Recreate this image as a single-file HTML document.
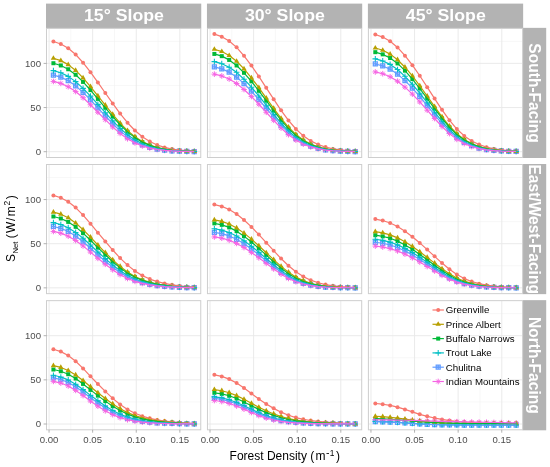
<!DOCTYPE html>
<html lang="en"><head><meta charset="utf-8"><title>Net shortwave vs forest density</title>
<style>html,body{margin:0;padding:0;background:#fff}body{width:550px;height:467px;overflow:hidden}svg{display:block}</style>
</head><body>
<svg width="550" height="467" viewBox="0 0 550 467" font-family="'Liberation Sans', sans-serif">
<rect width="550" height="467" fill="#fff"/>
<rect x="46.00" y="3.6" width="155.25" height="24.75" fill="#b3b3b3"/>
<rect x="206.95" y="3.6" width="155.25" height="24.75" fill="#b3b3b3"/>
<rect x="367.90" y="3.6" width="155.25" height="24.75" fill="#b3b3b3"/>
<rect x="522.7" y="27.85" width="23.50" height="130.15" fill="#b3b3b3"/>
<rect x="522.7" y="164.00" width="23.50" height="130.15" fill="#b3b3b3"/>
<rect x="522.7" y="300.15" width="23.50" height="130.15" fill="#b3b3b3"/>
<g>
<path d="M46.50 129.62H200.75M46.50 85.47H200.75M46.50 41.32H200.75M70.85 28.35V157.50M114.45 28.35V157.50M158.05 28.35V157.50" stroke="#f2f2f2" stroke-width="0.6" fill="none"/>
<path d="M46.50 151.70H200.75M46.50 107.55H200.75M46.50 63.40H200.75M49.05 28.35V157.50M92.65 28.35V157.50M136.25 28.35V157.50M179.85 28.35V157.50" stroke="#e8e8e8" stroke-width="0.9" fill="none"/>
<rect x="51.41" y="61.22" width="4.0" height="4.0" fill="#00BA38"/><rect x="58.82" y="63.46" width="4.0" height="4.0" fill="#00BA38"/><rect x="66.23" y="67.25" width="4.0" height="4.0" fill="#00BA38"/><rect x="73.65" y="72.77" width="4.0" height="4.0" fill="#00BA38"/><rect x="81.06" y="79.92" width="4.0" height="4.0" fill="#00BA38"/><rect x="88.47" y="88.11" width="4.0" height="4.0" fill="#00BA38"/><rect x="95.88" y="96.90" width="4.0" height="4.0" fill="#00BA38"/><rect x="103.29" y="105.80" width="4.0" height="4.0" fill="#00BA38"/><rect x="110.71" y="114.55" width="4.0" height="4.0" fill="#00BA38"/><rect x="118.12" y="122.75" width="4.0" height="4.0" fill="#00BA38"/><rect x="125.53" y="129.85" width="4.0" height="4.0" fill="#00BA38"/><rect x="132.94" y="135.62" width="4.0" height="4.0" fill="#00BA38"/><rect x="140.35" y="140.14" width="4.0" height="4.0" fill="#00BA38"/><rect x="147.77" y="143.42" width="4.0" height="4.0" fill="#00BA38"/><rect x="155.18" y="145.72" width="4.0" height="4.0" fill="#00BA38"/><rect x="162.59" y="147.28" width="4.0" height="4.0" fill="#00BA38"/><rect x="170.00" y="148.24" width="4.0" height="4.0" fill="#00BA38"/><rect x="177.41" y="148.84" width="4.0" height="4.0" fill="#00BA38"/><rect x="184.83" y="149.23" width="4.0" height="4.0" fill="#00BA38"/><rect x="192.24" y="149.43" width="4.0" height="4.0" fill="#00BA38"/>
<path d="M51.41 73.06H55.41V77.06H51.41ZM51.41 75.06H55.41M53.41 73.06V77.06" stroke="#619CFF" stroke-width="1.25" fill="none"/><path d="M58.82 75.14H62.82V79.14H58.82ZM58.82 77.14H62.82M60.82 75.14V79.14" stroke="#619CFF" stroke-width="1.25" fill="none"/><path d="M66.23 78.67H70.23V82.67H66.23ZM66.23 80.67H70.23M68.23 78.67V82.67" stroke="#619CFF" stroke-width="1.25" fill="none"/><path d="M73.65 83.83H77.65V87.83H73.65ZM73.65 85.83H77.65M75.65 83.83V87.83" stroke="#619CFF" stroke-width="1.25" fill="none"/><path d="M81.06 90.41H85.06V94.41H81.06ZM81.06 92.41H85.06M83.06 90.41V94.41" stroke="#619CFF" stroke-width="1.25" fill="none"/><path d="M88.47 97.93H92.47V101.93H88.47ZM88.47 99.93H92.47M90.47 97.93V101.93" stroke="#619CFF" stroke-width="1.25" fill="none"/><path d="M95.88 105.93H99.88V109.93H95.88ZM95.88 107.93H99.88M97.88 105.93V109.93" stroke="#619CFF" stroke-width="1.25" fill="none"/><path d="M103.29 113.92H107.29V117.92H103.29ZM103.29 115.92H107.29M105.29 113.92V117.92" stroke="#619CFF" stroke-width="1.25" fill="none"/><path d="M110.71 121.76H114.71V125.76H110.71ZM110.71 123.76H114.71M112.71 121.76V125.76" stroke="#619CFF" stroke-width="1.25" fill="none"/><path d="M118.12 128.89H122.12V132.89H118.12ZM118.12 130.89H122.12M120.12 128.89V132.89" stroke="#619CFF" stroke-width="1.25" fill="none"/><path d="M125.53 134.88H129.53V138.88H125.53ZM125.53 136.88H129.53M127.53 134.88V138.88" stroke="#619CFF" stroke-width="1.25" fill="none"/><path d="M132.94 139.50H136.94V143.50H132.94ZM132.94 141.50H136.94M134.94 139.50V143.50" stroke="#619CFF" stroke-width="1.25" fill="none"/><path d="M140.35 142.95H144.35V146.95H140.35ZM140.35 144.95H144.35M142.35 142.95V146.95" stroke="#619CFF" stroke-width="1.25" fill="none"/><path d="M147.77 145.39H151.77V149.39H147.77ZM147.77 147.39H151.77M149.77 145.39V149.39" stroke="#619CFF" stroke-width="1.25" fill="none"/><path d="M155.18 147.07H159.18V151.07H155.18ZM155.18 149.07H159.18M157.18 147.07V151.07" stroke="#619CFF" stroke-width="1.25" fill="none"/><path d="M162.59 148.14H166.59V152.14H162.59ZM162.59 150.14H166.59M164.59 148.14V152.14" stroke="#619CFF" stroke-width="1.25" fill="none"/><path d="M170.00 148.78H174.00V152.78H170.00ZM170.00 150.78H174.00M172.00 148.78V152.78" stroke="#619CFF" stroke-width="1.25" fill="none"/><path d="M177.41 149.19H181.41V153.19H177.41ZM177.41 151.19H181.41M179.41 149.19V153.19" stroke="#619CFF" stroke-width="1.25" fill="none"/><path d="M184.83 149.42H188.83V153.42H184.83ZM184.83 151.42H188.83M186.83 149.42V153.42" stroke="#619CFF" stroke-width="1.25" fill="none"/><path d="M192.24 149.53H196.24V153.53H192.24ZM192.24 151.53H196.24M194.24 149.53V153.53" stroke="#619CFF" stroke-width="1.25" fill="none"/>
<circle cx="53.41" cy="41.50" r="2.0" fill="#F8766D"/><circle cx="60.82" cy="44.03" r="2.0" fill="#F8766D"/><circle cx="68.23" cy="48.28" r="2.0" fill="#F8766D"/><circle cx="75.65" cy="54.50" r="2.0" fill="#F8766D"/><circle cx="83.06" cy="62.70" r="2.0" fill="#F8766D"/><circle cx="90.47" cy="72.15" r="2.0" fill="#F8766D"/><circle cx="97.88" cy="82.39" r="2.0" fill="#F8766D"/><circle cx="105.29" cy="92.99" r="2.0" fill="#F8766D"/><circle cx="112.71" cy="103.40" r="2.0" fill="#F8766D"/><circle cx="120.12" cy="113.57" r="2.0" fill="#F8766D"/><circle cx="127.53" cy="122.72" r="2.0" fill="#F8766D"/><circle cx="134.94" cy="130.47" r="2.0" fill="#F8766D"/><circle cx="142.35" cy="136.82" r="2.0" fill="#F8766D"/><circle cx="149.77" cy="141.56" r="2.0" fill="#F8766D"/><circle cx="157.18" cy="144.98" r="2.0" fill="#F8766D"/><circle cx="164.59" cy="147.40" r="2.0" fill="#F8766D"/><circle cx="172.00" cy="149.05" r="2.0" fill="#F8766D"/><circle cx="179.41" cy="150.05" r="2.0" fill="#F8766D"/><circle cx="186.83" cy="150.71" r="2.0" fill="#F8766D"/><circle cx="194.24" cy="151.15" r="2.0" fill="#F8766D"/>
<path d="M50.58 81.41H56.24M53.41 78.58V84.24M51.41 79.41L55.41 83.41M51.41 83.41L55.41 79.41" stroke="#F564E3" stroke-width="0.95" fill="none"/><path d="M57.99 83.37H63.65M60.82 80.54V86.20M58.82 81.37L62.82 85.37M58.82 85.37L62.82 81.37" stroke="#F564E3" stroke-width="0.95" fill="none"/><path d="M65.41 86.70H71.06M68.23 83.87V89.53M66.23 84.70L70.23 88.70M66.23 88.70L70.23 84.70" stroke="#F564E3" stroke-width="0.95" fill="none"/><path d="M72.82 91.56H78.47M75.65 88.74V94.39M73.65 89.56L77.65 93.56M73.65 93.56L77.65 89.56" stroke="#F564E3" stroke-width="0.95" fill="none"/><path d="M80.23 97.73H85.89M83.06 94.90V100.56M81.06 95.73L85.06 99.73M81.06 99.73L85.06 95.73" stroke="#F564E3" stroke-width="0.95" fill="none"/><path d="M87.64 104.77H93.30M90.47 101.94V107.59M88.47 102.77L92.47 106.77M88.47 106.77L92.47 102.77" stroke="#F564E3" stroke-width="0.95" fill="none"/><path d="M95.05 112.24H100.71M97.88 109.41V115.07M95.88 110.24L99.88 114.24M95.88 114.24L99.88 110.24" stroke="#F564E3" stroke-width="0.95" fill="none"/><path d="M102.47 119.66H108.12M105.29 116.83V122.49M103.29 117.66L107.29 121.66M103.29 121.66L107.29 117.66" stroke="#F564E3" stroke-width="0.95" fill="none"/><path d="M109.88 126.94H115.53M112.71 124.12V129.77M110.71 124.94L114.71 128.94M110.71 128.94L114.71 124.94" stroke="#F564E3" stroke-width="0.95" fill="none"/><path d="M117.29 133.41H122.95M120.12 130.58V136.24M118.12 131.41L122.12 135.41M118.12 135.41L122.12 131.41" stroke="#F564E3" stroke-width="0.95" fill="none"/><path d="M124.70 138.76H130.36M127.53 135.93V141.59M125.53 136.76L129.53 140.76M125.53 140.76L129.53 136.76" stroke="#F564E3" stroke-width="0.95" fill="none"/><path d="M132.11 142.88H137.77M134.94 140.05V145.70M132.94 140.88L136.94 144.88M132.94 144.88L136.94 140.88" stroke="#F564E3" stroke-width="0.95" fill="none"/><path d="M139.53 145.93H145.18M142.35 143.10V148.75M140.35 143.93L144.35 147.93M140.35 147.93L144.35 143.93" stroke="#F564E3" stroke-width="0.95" fill="none"/><path d="M146.94 148.07H152.59M149.77 145.24V150.89M147.77 146.07L151.77 150.07M147.77 150.07L151.77 146.07" stroke="#F564E3" stroke-width="0.95" fill="none"/><path d="M154.35 149.52H160.01M157.18 146.69V152.34M155.18 147.52L159.18 151.52M155.18 151.52L159.18 147.52" stroke="#F564E3" stroke-width="0.95" fill="none"/><path d="M161.76 150.41H167.42M164.59 147.59V153.24M162.59 148.41L166.59 152.41M162.59 152.41L166.59 148.41" stroke="#F564E3" stroke-width="0.95" fill="none"/><path d="M169.17 150.96H174.83M172.00 148.13V153.79M170.00 148.96L174.00 152.96M170.00 152.96L174.00 148.96" stroke="#F564E3" stroke-width="0.95" fill="none"/><path d="M176.59 151.30H182.24M179.41 148.48V154.13M177.41 149.30L181.41 153.30M177.41 153.30L181.41 149.30" stroke="#F564E3" stroke-width="0.95" fill="none"/><path d="M184.00 151.48H189.65M186.83 148.65V154.31M184.83 149.48L188.83 153.48M184.83 153.48L188.83 149.48" stroke="#F564E3" stroke-width="0.95" fill="none"/><path d="M191.41 151.56H197.07M194.24 148.73V154.39M192.24 149.56L196.24 153.56M192.24 153.56L196.24 149.56" stroke="#F564E3" stroke-width="0.95" fill="none"/>
<path d="M53.41 55.17L56.10 59.83L50.72 59.83Z" fill="#B79F00"/><path d="M60.82 57.52L63.52 62.19L58.13 62.19Z" fill="#B79F00"/><path d="M68.23 61.50L70.93 66.17L65.54 66.17Z" fill="#B79F00"/><path d="M75.65 67.32L78.34 71.98L72.95 71.98Z" fill="#B79F00"/><path d="M83.06 74.84L85.75 79.50L80.36 79.50Z" fill="#B79F00"/><path d="M90.47 83.46L93.16 88.12L87.78 88.12Z" fill="#B79F00"/><path d="M97.88 92.72L100.58 97.38L95.19 97.38Z" fill="#B79F00"/><path d="M105.29 102.10L107.99 106.77L102.60 106.77Z" fill="#B79F00"/><path d="M112.71 111.32L115.40 115.98L110.01 115.98Z" fill="#B79F00"/><path d="M120.12 119.97L122.81 124.64L117.42 124.64Z" fill="#B79F00"/><path d="M127.53 127.49L130.22 132.16L124.84 132.16Z" fill="#B79F00"/><path d="M134.94 133.60L137.64 138.26L132.25 138.26Z" fill="#B79F00"/><path d="M142.35 138.40L145.05 143.06L139.66 143.06Z" fill="#B79F00"/><path d="M149.77 141.88L152.46 146.54L147.07 146.54Z" fill="#B79F00"/><path d="M157.18 144.33L159.87 148.99L154.48 148.99Z" fill="#B79F00"/><path d="M164.59 145.99L167.28 150.66L161.90 150.66Z" fill="#B79F00"/><path d="M172.00 147.02L174.70 151.68L169.31 151.68Z" fill="#B79F00"/><path d="M179.41 147.66L182.11 152.33L176.72 152.33Z" fill="#B79F00"/><path d="M186.83 148.08L189.52 152.75L184.13 152.75Z" fill="#B79F00"/><path d="M194.24 148.30L196.93 152.96L191.54 152.96Z" fill="#B79F00"/>
<path d="M50.58 70.64H56.24M53.41 67.81V73.47" stroke="#00BFC4" stroke-width="1.05" fill="none"/><path d="M57.99 72.77H63.65M60.82 69.94V75.59" stroke="#00BFC4" stroke-width="1.05" fill="none"/><path d="M65.41 76.37H71.06M68.23 73.54V79.20" stroke="#00BFC4" stroke-width="1.05" fill="none"/><path d="M72.82 81.63H78.47M75.65 78.80V84.46" stroke="#00BFC4" stroke-width="1.05" fill="none"/><path d="M80.23 88.38H85.89M83.06 85.55V91.21" stroke="#00BFC4" stroke-width="1.05" fill="none"/><path d="M87.64 96.11H93.30M90.47 93.28V98.94" stroke="#00BFC4" stroke-width="1.05" fill="none"/><path d="M95.05 104.37H100.71M97.88 101.54V107.20" stroke="#00BFC4" stroke-width="1.05" fill="none"/><path d="M102.47 112.67H108.12M105.29 109.84V115.50" stroke="#00BFC4" stroke-width="1.05" fill="none"/><path d="M109.88 120.82H115.53M112.71 118.00V123.65" stroke="#00BFC4" stroke-width="1.05" fill="none"/><path d="M117.29 128.35H122.95M120.12 125.52V131.18" stroke="#00BFC4" stroke-width="1.05" fill="none"/><path d="M124.70 134.77H130.36M127.53 131.94V137.60" stroke="#00BFC4" stroke-width="1.05" fill="none"/><path d="M132.11 139.89H137.77M134.94 137.06V142.72" stroke="#00BFC4" stroke-width="1.05" fill="none"/><path d="M139.53 143.82H145.18M142.35 140.99V146.65" stroke="#00BFC4" stroke-width="1.05" fill="none"/><path d="M146.94 146.63H152.59M149.77 143.80V149.46" stroke="#00BFC4" stroke-width="1.05" fill="none"/><path d="M154.35 148.56H160.01M157.18 145.73V151.39" stroke="#00BFC4" stroke-width="1.05" fill="none"/><path d="M161.76 149.82H167.42M164.59 146.99V152.65" stroke="#00BFC4" stroke-width="1.05" fill="none"/><path d="M169.17 150.56H174.83M172.00 147.73V153.39" stroke="#00BFC4" stroke-width="1.05" fill="none"/><path d="M176.59 151.04H182.24M179.41 148.22V153.87" stroke="#00BFC4" stroke-width="1.05" fill="none"/><path d="M184.00 151.34H189.65M186.83 148.51V154.17" stroke="#00BFC4" stroke-width="1.05" fill="none"/><path d="M191.41 151.49H197.07M194.24 148.66V154.32" stroke="#00BFC4" stroke-width="1.05" fill="none"/>
<path d="M53.41 41.50L60.82 44.03L68.23 48.28L75.65 54.50L83.06 62.70L90.47 72.15L97.88 82.39L105.29 92.99L112.71 103.40L120.12 113.57L127.53 122.72L134.94 130.47L142.35 136.82L149.77 141.56L157.18 144.98L164.59 147.40L172.00 149.05L179.41 150.05L186.83 150.71L194.24 151.15" stroke="#F8766D" stroke-width="1.2" fill="none" stroke-linejoin="round"/>
<path d="M53.41 58.28L60.82 60.63L68.23 64.61L75.65 70.43L83.06 77.95L90.47 86.57L97.88 95.83L105.29 105.21L112.71 114.43L120.12 123.09L127.53 130.60L134.94 136.71L142.35 141.51L149.77 144.99L157.18 147.44L164.59 149.10L172.00 150.13L179.41 150.77L186.83 151.19L194.24 151.41" stroke="#B79F00" stroke-width="1.2" fill="none" stroke-linejoin="round"/>
<path d="M53.41 63.22L60.82 65.46L68.23 69.25L75.65 74.77L83.06 81.92L90.47 90.11L97.88 98.90L105.29 107.80L112.71 116.55L120.12 124.75L127.53 131.85L134.94 137.62L142.35 142.14L149.77 145.42L157.18 147.72L164.59 149.28L172.00 150.24L179.41 150.84L186.83 151.23L194.24 151.43" stroke="#00BA38" stroke-width="1.2" fill="none" stroke-linejoin="round"/>
<path d="M53.41 70.64L60.82 72.77L68.23 76.37L75.65 81.63L83.06 88.38L90.47 96.11L97.88 104.37L105.29 112.67L112.71 120.82L120.12 128.35L127.53 134.77L134.94 139.89L142.35 143.82L149.77 146.63L157.18 148.56L164.59 149.82L172.00 150.56L179.41 151.04L186.83 151.34L194.24 151.49" stroke="#00BFC4" stroke-width="1.2" fill="none" stroke-linejoin="round"/>
<path d="M53.41 75.06L60.82 77.14L68.23 80.67L75.65 85.83L83.06 92.41L90.47 99.93L97.88 107.93L105.29 115.92L112.71 123.76L120.12 130.89L127.53 136.88L134.94 141.50L142.35 144.95L149.77 147.39L157.18 149.07L164.59 150.14L172.00 150.78L179.41 151.19L186.83 151.42L194.24 151.53" stroke="#619CFF" stroke-width="1.2" fill="none" stroke-linejoin="round"/>
<path d="M53.41 81.41L60.82 83.37L68.23 86.70L75.65 91.56L83.06 97.73L90.47 104.77L97.88 112.24L105.29 119.66L112.71 126.94L120.12 133.41L127.53 138.76L134.94 142.88L142.35 145.93L149.77 148.07L157.18 149.52L164.59 150.41L172.00 150.96L179.41 151.30L186.83 151.48L194.24 151.56" stroke="#F564E3" stroke-width="1.2" fill="none" stroke-linejoin="round"/>
<rect x="46.50" y="28.35" width="154.25" height="129.15" fill="none" stroke="#cecece" stroke-width="1"/>
</g>
<g>
<path d="M207.45 129.62H361.70M207.45 85.47H361.70M207.45 41.32H361.70M231.80 28.35V157.50M275.40 28.35V157.50M319.00 28.35V157.50" stroke="#f2f2f2" stroke-width="0.6" fill="none"/>
<path d="M207.45 151.70H361.70M207.45 107.55H361.70M207.45 63.40H361.70M210.00 28.35V157.50M253.60 28.35V157.50M297.20 28.35V157.50M340.80 28.35V157.50" stroke="#e8e8e8" stroke-width="0.9" fill="none"/>
<rect x="212.36" y="51.93" width="4.0" height="4.0" fill="#00BA38"/><rect x="219.77" y="54.15" width="4.0" height="4.0" fill="#00BA38"/><rect x="227.18" y="57.91" width="4.0" height="4.0" fill="#00BA38"/><rect x="234.60" y="63.45" width="4.0" height="4.0" fill="#00BA38"/><rect x="242.01" y="70.82" width="4.0" height="4.0" fill="#00BA38"/><rect x="249.42" y="79.35" width="4.0" height="4.0" fill="#00BA38"/><rect x="256.83" y="88.81" width="4.0" height="4.0" fill="#00BA38"/><rect x="264.24" y="98.72" width="4.0" height="4.0" fill="#00BA38"/><rect x="271.66" y="108.57" width="4.0" height="4.0" fill="#00BA38"/><rect x="279.07" y="118.09" width="4.0" height="4.0" fill="#00BA38"/><rect x="286.48" y="126.53" width="4.0" height="4.0" fill="#00BA38"/><rect x="293.89" y="133.47" width="4.0" height="4.0" fill="#00BA38"/><rect x="301.30" y="138.76" width="4.0" height="4.0" fill="#00BA38"/><rect x="308.72" y="142.57" width="4.0" height="4.0" fill="#00BA38"/><rect x="316.13" y="145.24" width="4.0" height="4.0" fill="#00BA38"/><rect x="323.54" y="147.04" width="4.0" height="4.0" fill="#00BA38"/><rect x="330.95" y="148.13" width="4.0" height="4.0" fill="#00BA38"/><rect x="338.36" y="148.81" width="4.0" height="4.0" fill="#00BA38"/><rect x="345.78" y="149.23" width="4.0" height="4.0" fill="#00BA38"/><rect x="353.19" y="149.43" width="4.0" height="4.0" fill="#00BA38"/>
<path d="M212.36 64.91H216.36V68.91H212.36ZM212.36 66.91H216.36M214.36 64.91V68.91" stroke="#619CFF" stroke-width="1.25" fill="none"/><path d="M219.77 66.85H223.77V70.85H219.77ZM219.77 68.85H223.77M221.77 66.85V70.85" stroke="#619CFF" stroke-width="1.25" fill="none"/><path d="M227.18 70.17H231.18V74.17H227.18ZM227.18 72.17H231.18M229.18 70.17V74.17" stroke="#619CFF" stroke-width="1.25" fill="none"/><path d="M234.60 75.07H238.60V79.07H234.60ZM234.60 77.07H238.60M236.60 75.07V79.07" stroke="#619CFF" stroke-width="1.25" fill="none"/><path d="M242.01 81.58H246.01V85.58H242.01ZM242.01 83.58H246.01M244.01 81.58V85.58" stroke="#619CFF" stroke-width="1.25" fill="none"/><path d="M249.42 89.14H253.42V93.14H249.42ZM249.42 91.14H253.42M251.42 89.14V93.14" stroke="#619CFF" stroke-width="1.25" fill="none"/><path d="M256.83 97.51H260.83V101.51H256.83ZM256.83 99.51H260.83M258.83 97.51V101.51" stroke="#619CFF" stroke-width="1.25" fill="none"/><path d="M264.24 106.27H268.24V110.27H264.24ZM264.24 108.27H268.24M266.24 106.27V110.27" stroke="#619CFF" stroke-width="1.25" fill="none"/><path d="M271.66 114.98H275.66V118.98H271.66ZM271.66 116.98H275.66M273.66 114.98V118.98" stroke="#619CFF" stroke-width="1.25" fill="none"/><path d="M279.07 123.33H283.07V127.33H279.07ZM279.07 125.33H283.07M281.07 123.33V127.33" stroke="#619CFF" stroke-width="1.25" fill="none"/><path d="M286.48 130.65H290.48V134.65H286.48ZM286.48 132.65H290.48M288.48 130.65V134.65" stroke="#619CFF" stroke-width="1.25" fill="none"/><path d="M293.89 136.60H297.89V140.60H293.89ZM293.89 138.60H297.89M295.89 136.60V140.60" stroke="#619CFF" stroke-width="1.25" fill="none"/><path d="M301.30 141.05H305.30V145.05H301.30ZM301.30 143.05H305.30M303.30 141.05V145.05" stroke="#619CFF" stroke-width="1.25" fill="none"/><path d="M308.72 144.21H312.72V148.21H308.72ZM308.72 146.21H312.72M310.72 144.21V148.21" stroke="#619CFF" stroke-width="1.25" fill="none"/><path d="M316.13 146.39H320.13V150.39H316.13ZM316.13 148.39H320.13M318.13 146.39V150.39" stroke="#619CFF" stroke-width="1.25" fill="none"/><path d="M323.54 147.76H327.54V151.76H323.54ZM323.54 149.76H327.54M325.54 147.76V151.76" stroke="#619CFF" stroke-width="1.25" fill="none"/><path d="M330.95 148.56H334.95V152.56H330.95ZM330.95 150.56H334.95M332.95 148.56V152.56" stroke="#619CFF" stroke-width="1.25" fill="none"/><path d="M338.36 149.07H342.36V153.07H338.36ZM338.36 151.07H342.36M340.36 149.07V153.07" stroke="#619CFF" stroke-width="1.25" fill="none"/><path d="M345.78 149.37H349.78V153.37H345.78ZM345.78 151.37H349.78M347.78 149.37V153.37" stroke="#619CFF" stroke-width="1.25" fill="none"/><path d="M353.19 149.51H357.19V153.51H353.19ZM353.19 151.51H357.19M355.19 149.51V153.51" stroke="#619CFF" stroke-width="1.25" fill="none"/>
<circle cx="214.36" cy="34.08" r="2.0" fill="#F8766D"/><circle cx="221.77" cy="36.67" r="2.0" fill="#F8766D"/><circle cx="229.18" cy="41.02" r="2.0" fill="#F8766D"/><circle cx="236.60" cy="47.37" r="2.0" fill="#F8766D"/><circle cx="244.01" cy="55.84" r="2.0" fill="#F8766D"/><circle cx="251.42" cy="65.61" r="2.0" fill="#F8766D"/><circle cx="258.83" cy="76.43" r="2.0" fill="#F8766D"/><circle cx="266.24" cy="87.83" r="2.0" fill="#F8766D"/><circle cx="273.66" cy="99.13" r="2.0" fill="#F8766D"/><circle cx="281.07" cy="110.30" r="2.0" fill="#F8766D"/><circle cx="288.48" cy="120.41" r="2.0" fill="#F8766D"/><circle cx="295.89" cy="129.00" r="2.0" fill="#F8766D"/><circle cx="303.30" cy="135.82" r="2.0" fill="#F8766D"/><circle cx="310.72" cy="140.88" r="2.0" fill="#F8766D"/><circle cx="318.13" cy="144.53" r="2.0" fill="#F8766D"/><circle cx="325.54" cy="147.11" r="2.0" fill="#F8766D"/><circle cx="332.95" cy="148.88" r="2.0" fill="#F8766D"/><circle cx="340.36" cy="149.94" r="2.0" fill="#F8766D"/><circle cx="347.78" cy="150.64" r="2.0" fill="#F8766D"/><circle cx="355.19" cy="151.11" r="2.0" fill="#F8766D"/>
<path d="M211.53 74.15H217.19M214.36 71.32V76.97M212.36 72.15L216.36 76.15M212.36 76.15L216.36 72.15" stroke="#F564E3" stroke-width="0.95" fill="none"/><path d="M218.94 75.94H224.60M221.77 73.11V78.76M219.77 73.94L223.77 77.94M219.77 77.94L223.77 73.94" stroke="#F564E3" stroke-width="0.95" fill="none"/><path d="M226.36 78.99H232.01M229.18 76.16V81.82M227.18 76.99L231.18 80.99M227.18 80.99L231.18 76.99" stroke="#F564E3" stroke-width="0.95" fill="none"/><path d="M233.77 83.51H239.42M236.60 80.68V86.34M234.60 81.51L238.60 85.51M234.60 85.51L238.60 81.51" stroke="#F564E3" stroke-width="0.95" fill="none"/><path d="M241.18 89.51H246.84M244.01 86.69V92.34M242.01 87.51L246.01 91.51M242.01 91.51L246.01 87.51" stroke="#F564E3" stroke-width="0.95" fill="none"/><path d="M248.59 96.48H254.25M251.42 93.65V99.31M249.42 94.48L253.42 98.48M249.42 98.48L253.42 94.48" stroke="#F564E3" stroke-width="0.95" fill="none"/><path d="M256.00 104.21H261.66M258.83 101.38V107.04M256.83 102.21L260.83 106.21M256.83 106.21L260.83 102.21" stroke="#F564E3" stroke-width="0.95" fill="none"/><path d="M263.42 112.27H269.07M266.24 109.44V115.10M264.24 110.27L268.24 114.27M264.24 114.27L268.24 110.27" stroke="#F564E3" stroke-width="0.95" fill="none"/><path d="M270.83 120.31H276.48M273.66 117.48V123.14M271.66 118.31L275.66 122.31M271.66 122.31L275.66 118.31" stroke="#F564E3" stroke-width="0.95" fill="none"/><path d="M278.24 127.98H283.90M281.07 125.15V130.81M279.07 125.98L283.07 129.98M279.07 129.98L283.07 125.98" stroke="#F564E3" stroke-width="0.95" fill="none"/><path d="M285.65 134.68H291.31M288.48 131.85V137.51M286.48 132.68L290.48 136.68M286.48 136.68L290.48 132.68" stroke="#F564E3" stroke-width="0.95" fill="none"/><path d="M293.06 140.09H298.72M295.89 137.26V142.92M293.89 138.09L297.89 142.09M293.89 142.09L297.89 138.09" stroke="#F564E3" stroke-width="0.95" fill="none"/><path d="M300.48 144.11H306.13M303.30 141.28V146.94M301.30 142.11L305.30 146.11M301.30 146.11L305.30 142.11" stroke="#F564E3" stroke-width="0.95" fill="none"/><path d="M307.89 146.95H313.54M310.72 144.12V149.77M308.72 144.95L312.72 148.95M308.72 148.95L312.72 144.95" stroke="#F564E3" stroke-width="0.95" fill="none"/><path d="M315.30 148.82H320.96M318.13 145.99V151.65M316.13 146.82L320.13 150.82M316.13 150.82L320.13 146.82" stroke="#F564E3" stroke-width="0.95" fill="none"/><path d="M322.71 150.03H328.37M325.54 147.20V152.85M323.54 148.03L327.54 152.03M323.54 152.03L327.54 148.03" stroke="#F564E3" stroke-width="0.95" fill="none"/><path d="M330.12 150.73H335.78M332.95 147.90V153.56M330.95 148.73L334.95 152.73M330.95 152.73L334.95 148.73" stroke="#F564E3" stroke-width="0.95" fill="none"/><path d="M337.54 151.18H343.19M340.36 148.35V154.01M338.36 149.18L342.36 153.18M338.36 153.18L342.36 149.18" stroke="#F564E3" stroke-width="0.95" fill="none"/><path d="M344.95 151.43H350.60M347.78 148.60V154.26M345.78 149.43L349.78 153.43M345.78 153.43L349.78 149.43" stroke="#F564E3" stroke-width="0.95" fill="none"/><path d="M352.36 151.54H358.02M355.19 148.71V154.37M353.19 149.54L357.19 153.54M353.19 153.54L357.19 149.54" stroke="#F564E3" stroke-width="0.95" fill="none"/>
<path d="M214.36 46.14L217.05 50.81L211.67 50.81Z" fill="#B79F00"/><path d="M221.77 48.46L224.47 53.12L219.08 53.12Z" fill="#B79F00"/><path d="M229.18 52.39L231.88 57.05L226.49 57.05Z" fill="#B79F00"/><path d="M236.60 58.16L239.29 62.83L233.90 62.83Z" fill="#B79F00"/><path d="M244.01 65.84L246.70 70.51L241.31 70.51Z" fill="#B79F00"/><path d="M251.42 74.74L254.11 79.40L248.73 79.40Z" fill="#B79F00"/><path d="M258.83 84.60L261.53 89.26L256.14 89.26Z" fill="#B79F00"/><path d="M266.24 94.93L268.94 99.60L263.55 99.60Z" fill="#B79F00"/><path d="M273.66 105.20L276.35 109.86L270.96 109.86Z" fill="#B79F00"/><path d="M281.07 115.16L283.76 119.82L278.37 119.82Z" fill="#B79F00"/><path d="M288.48 123.99L291.17 128.65L285.79 128.65Z" fill="#B79F00"/><path d="M295.89 131.28L298.59 135.95L293.20 135.95Z" fill="#B79F00"/><path d="M303.30 136.87L306.00 141.54L300.61 141.54Z" fill="#B79F00"/><path d="M310.72 140.91L313.41 145.58L308.02 145.58Z" fill="#B79F00"/><path d="M318.13 143.75L320.82 148.41L315.43 148.41Z" fill="#B79F00"/><path d="M325.54 145.68L328.23 150.34L322.85 150.34Z" fill="#B79F00"/><path d="M332.95 146.86L335.65 151.52L330.26 151.52Z" fill="#B79F00"/><path d="M340.36 147.59L343.06 152.26L337.67 152.26Z" fill="#B79F00"/><path d="M347.78 148.07L350.47 152.73L345.08 152.73Z" fill="#B79F00"/><path d="M355.19 148.29L357.88 152.95L352.49 152.95Z" fill="#B79F00"/>
<path d="M211.53 61.61H217.19M214.36 58.78V64.44" stroke="#00BFC4" stroke-width="1.05" fill="none"/><path d="M218.94 63.67H224.60M221.77 60.84V66.50" stroke="#00BFC4" stroke-width="1.05" fill="none"/><path d="M226.36 67.17H232.01M229.18 64.34V70.00" stroke="#00BFC4" stroke-width="1.05" fill="none"/><path d="M233.77 72.33H239.42M236.60 69.51V75.16" stroke="#00BFC4" stroke-width="1.05" fill="none"/><path d="M241.18 79.20H246.84M244.01 76.37V82.03" stroke="#00BFC4" stroke-width="1.05" fill="none"/><path d="M248.59 87.16H254.25M251.42 84.33V89.98" stroke="#00BFC4" stroke-width="1.05" fill="none"/><path d="M256.00 95.98H261.66M258.83 93.15V98.81" stroke="#00BFC4" stroke-width="1.05" fill="none"/><path d="M263.42 105.21H269.07M266.24 102.38V108.03" stroke="#00BFC4" stroke-width="1.05" fill="none"/><path d="M270.83 114.39H276.48M273.66 111.56V117.22" stroke="#00BFC4" stroke-width="1.05" fill="none"/><path d="M278.24 123.22H283.90M281.07 120.40V126.05" stroke="#00BFC4" stroke-width="1.05" fill="none"/><path d="M285.65 131.00H291.31M288.48 128.17V133.83" stroke="#00BFC4" stroke-width="1.05" fill="none"/><path d="M293.06 137.35H298.72M295.89 134.52V140.18" stroke="#00BFC4" stroke-width="1.05" fill="none"/><path d="M300.48 142.14H306.13M303.30 139.31V144.97" stroke="#00BFC4" stroke-width="1.05" fill="none"/><path d="M307.89 145.56H313.54M310.72 142.73V148.39" stroke="#00BFC4" stroke-width="1.05" fill="none"/><path d="M315.30 147.94H320.96M318.13 145.11V150.77" stroke="#00BFC4" stroke-width="1.05" fill="none"/><path d="M322.71 149.52H328.37M325.54 146.69V152.35" stroke="#00BFC4" stroke-width="1.05" fill="none"/><path d="M330.12 150.40H335.78M332.95 147.58V153.23" stroke="#00BFC4" stroke-width="1.05" fill="none"/><path d="M337.54 150.97H343.19M340.36 148.14V153.80" stroke="#00BFC4" stroke-width="1.05" fill="none"/><path d="M344.95 151.31H350.60M347.78 148.49V154.14" stroke="#00BFC4" stroke-width="1.05" fill="none"/><path d="M352.36 151.47H358.02M355.19 148.65V154.30" stroke="#00BFC4" stroke-width="1.05" fill="none"/>
<path d="M214.36 34.08L221.77 36.67L229.18 41.02L236.60 47.37L244.01 55.84L251.42 65.61L258.83 76.43L266.24 87.83L273.66 99.13L281.07 110.30L288.48 120.41L295.89 129.00L303.30 135.82L310.72 140.88L318.13 144.53L325.54 147.11L332.95 148.88L340.36 149.94L347.78 150.64L355.19 151.11" stroke="#F8766D" stroke-width="1.2" fill="none" stroke-linejoin="round"/>
<path d="M214.36 49.25L221.77 51.57L229.18 55.50L236.60 61.27L244.01 68.95L251.42 77.85L258.83 87.71L266.24 98.04L273.66 108.31L281.07 118.27L288.48 127.10L295.89 134.39L303.30 139.98L310.72 144.02L318.13 146.86L325.54 148.79L332.95 149.97L340.36 150.70L347.78 151.18L355.19 151.40" stroke="#B79F00" stroke-width="1.2" fill="none" stroke-linejoin="round"/>
<path d="M214.36 53.93L221.77 56.15L229.18 59.91L236.60 65.45L244.01 72.82L251.42 81.35L258.83 90.81L266.24 100.72L273.66 110.57L281.07 120.09L288.48 128.53L295.89 135.47L303.30 140.76L310.72 144.57L318.13 147.24L325.54 149.04L332.95 150.13L340.36 150.81L347.78 151.23L355.19 151.43" stroke="#00BA38" stroke-width="1.2" fill="none" stroke-linejoin="round"/>
<path d="M214.36 61.61L221.77 63.67L229.18 67.17L236.60 72.33L244.01 79.20L251.42 87.16L258.83 95.98L266.24 105.21L273.66 114.39L281.07 123.22L288.48 131.00L295.89 137.35L303.30 142.14L310.72 145.56L318.13 147.94L325.54 149.52L332.95 150.40L340.36 150.97L347.78 151.31L355.19 151.47" stroke="#00BFC4" stroke-width="1.2" fill="none" stroke-linejoin="round"/>
<path d="M214.36 66.91L221.77 68.85L229.18 72.17L236.60 77.07L244.01 83.58L251.42 91.14L258.83 99.51L266.24 108.27L273.66 116.98L281.07 125.33L288.48 132.65L295.89 138.60L303.30 143.05L310.72 146.21L318.13 148.39L325.54 149.76L332.95 150.56L340.36 151.07L347.78 151.37L355.19 151.51" stroke="#619CFF" stroke-width="1.2" fill="none" stroke-linejoin="round"/>
<path d="M214.36 74.15L221.77 75.94L229.18 78.99L236.60 83.51L244.01 89.51L251.42 96.48L258.83 104.21L266.24 112.27L273.66 120.31L281.07 127.98L288.48 134.68L295.89 140.09L303.30 144.11L310.72 146.95L318.13 148.82L325.54 150.03L332.95 150.73L340.36 151.18L347.78 151.43L355.19 151.54" stroke="#F564E3" stroke-width="1.2" fill="none" stroke-linejoin="round"/>
<rect x="207.45" y="28.35" width="154.25" height="129.15" fill="none" stroke="#cecece" stroke-width="1"/>
</g>
<g>
<path d="M368.40 129.62H522.65M368.40 85.47H522.65M368.40 41.32H522.65M392.75 28.35V157.50M436.35 28.35V157.50M479.95 28.35V157.50" stroke="#f2f2f2" stroke-width="0.6" fill="none"/>
<path d="M368.40 151.70H522.65M368.40 107.55H522.65M368.40 63.40H522.65M370.95 28.35V157.50M414.55 28.35V157.50M458.15 28.35V157.50M501.75 28.35V157.50" stroke="#e8e8e8" stroke-width="0.9" fill="none"/>
<rect x="373.31" y="50.17" width="4.0" height="4.0" fill="#00BA38"/><rect x="380.72" y="52.35" width="4.0" height="4.0" fill="#00BA38"/><rect x="388.13" y="56.03" width="4.0" height="4.0" fill="#00BA38"/><rect x="395.55" y="61.42" width="4.0" height="4.0" fill="#00BA38"/><rect x="402.96" y="68.66" width="4.0" height="4.0" fill="#00BA38"/><rect x="410.37" y="77.05" width="4.0" height="4.0" fill="#00BA38"/><rect x="417.78" y="86.50" width="4.0" height="4.0" fill="#00BA38"/><rect x="425.19" y="96.56" width="4.0" height="4.0" fill="#00BA38"/><rect x="432.61" y="106.60" width="4.0" height="4.0" fill="#00BA38"/><rect x="440.02" y="116.45" width="4.0" height="4.0" fill="#00BA38"/><rect x="447.43" y="125.26" width="4.0" height="4.0" fill="#00BA38"/><rect x="454.84" y="132.57" width="4.0" height="4.0" fill="#00BA38"/><rect x="462.25" y="138.07" width="4.0" height="4.0" fill="#00BA38"/><rect x="469.67" y="142.04" width="4.0" height="4.0" fill="#00BA38"/><rect x="477.08" y="144.83" width="4.0" height="4.0" fill="#00BA38"/><rect x="484.49" y="146.74" width="4.0" height="4.0" fill="#00BA38"/><rect x="491.90" y="147.93" width="4.0" height="4.0" fill="#00BA38"/><rect x="499.31" y="148.67" width="4.0" height="4.0" fill="#00BA38"/><rect x="506.73" y="149.14" width="4.0" height="4.0" fill="#00BA38"/><rect x="514.14" y="149.39" width="4.0" height="4.0" fill="#00BA38"/>
<path d="M373.31 61.99H377.31V65.99H373.31ZM373.31 63.99H377.31M375.31 61.99V65.99" stroke="#619CFF" stroke-width="1.25" fill="none"/><path d="M380.72 63.94H384.72V67.94H380.72ZM380.72 65.94H384.72M382.72 63.94V67.94" stroke="#619CFF" stroke-width="1.25" fill="none"/><path d="M388.13 67.24H392.13V71.24H388.13ZM388.13 69.24H392.13M390.13 67.24V71.24" stroke="#619CFF" stroke-width="1.25" fill="none"/><path d="M395.55 72.10H399.55V76.10H395.55ZM395.55 74.10H399.55M397.55 72.10V76.10" stroke="#619CFF" stroke-width="1.25" fill="none"/><path d="M402.96 78.62H406.96V82.62H402.96ZM402.96 80.62H406.96M404.96 78.62V82.62" stroke="#619CFF" stroke-width="1.25" fill="none"/><path d="M410.37 86.18H414.37V90.18H410.37ZM410.37 88.18H414.37M412.37 86.18V90.18" stroke="#619CFF" stroke-width="1.25" fill="none"/><path d="M417.78 94.70H421.78V98.70H417.78ZM417.78 96.70H421.78M419.78 94.70V98.70" stroke="#619CFF" stroke-width="1.25" fill="none"/><path d="M425.19 103.74H429.19V107.74H425.19ZM425.19 105.74H429.19M427.19 103.74V107.74" stroke="#619CFF" stroke-width="1.25" fill="none"/><path d="M432.61 112.78H436.61V116.78H432.61ZM432.61 114.78H436.61M434.61 112.78V116.78" stroke="#619CFF" stroke-width="1.25" fill="none"/><path d="M440.02 121.56H444.02V125.56H440.02ZM440.02 123.56H444.02M442.02 121.56V125.56" stroke="#619CFF" stroke-width="1.25" fill="none"/><path d="M447.43 129.34H451.43V133.34H447.43ZM447.43 131.34H451.43M449.43 129.34V133.34" stroke="#619CFF" stroke-width="1.25" fill="none"/><path d="M454.84 135.70H458.84V139.70H454.84ZM454.84 137.70H458.84M456.84 135.70V139.70" stroke="#619CFF" stroke-width="1.25" fill="none"/><path d="M462.25 140.40H466.25V144.40H462.25ZM462.25 142.40H466.25M464.25 140.40V144.40" stroke="#619CFF" stroke-width="1.25" fill="none"/><path d="M469.67 143.73H473.67V147.73H469.67ZM469.67 145.73H473.67M471.67 143.73V147.73" stroke="#619CFF" stroke-width="1.25" fill="none"/><path d="M477.08 146.04H481.08V150.04H477.08ZM477.08 148.04H481.08M479.08 146.04V150.04" stroke="#619CFF" stroke-width="1.25" fill="none"/><path d="M484.49 147.58H488.49V151.58H484.49ZM484.49 149.58H488.49M486.49 147.58V151.58" stroke="#619CFF" stroke-width="1.25" fill="none"/><path d="M491.90 148.44H495.90V152.44H491.90ZM491.90 150.44H495.90M493.90 148.44V152.44" stroke="#619CFF" stroke-width="1.25" fill="none"/><path d="M499.31 148.99H503.31V152.99H499.31ZM499.31 150.99H503.31M501.31 148.99V152.99" stroke="#619CFF" stroke-width="1.25" fill="none"/><path d="M506.73 149.32H510.73V153.32H506.73ZM506.73 151.32H510.73M508.73 149.32V153.32" stroke="#619CFF" stroke-width="1.25" fill="none"/><path d="M514.14 149.48H518.14V153.48H514.14ZM514.14 151.48H518.14M516.14 149.48V153.48" stroke="#619CFF" stroke-width="1.25" fill="none"/>
<circle cx="375.31" cy="34.53" r="2.0" fill="#F8766D"/><circle cx="382.72" cy="37.06" r="2.0" fill="#F8766D"/><circle cx="390.13" cy="41.29" r="2.0" fill="#F8766D"/><circle cx="397.55" cy="47.44" r="2.0" fill="#F8766D"/><circle cx="404.96" cy="55.64" r="2.0" fill="#F8766D"/><circle cx="412.37" cy="65.13" r="2.0" fill="#F8766D"/><circle cx="419.78" cy="75.78" r="2.0" fill="#F8766D"/><circle cx="427.19" cy="87.17" r="2.0" fill="#F8766D"/><circle cx="434.61" cy="98.55" r="2.0" fill="#F8766D"/><circle cx="442.02" cy="109.87" r="2.0" fill="#F8766D"/><circle cx="449.43" cy="120.22" r="2.0" fill="#F8766D"/><circle cx="456.84" cy="129.04" r="2.0" fill="#F8766D"/><circle cx="464.25" cy="135.88" r="2.0" fill="#F8766D"/><circle cx="471.67" cy="140.92" r="2.0" fill="#F8766D"/><circle cx="479.08" cy="144.55" r="2.0" fill="#F8766D"/><circle cx="486.49" cy="147.13" r="2.0" fill="#F8766D"/><circle cx="493.90" cy="148.89" r="2.0" fill="#F8766D"/><circle cx="501.31" cy="149.94" r="2.0" fill="#F8766D"/><circle cx="508.73" cy="150.65" r="2.0" fill="#F8766D"/><circle cx="516.14" cy="151.11" r="2.0" fill="#F8766D"/>
<path d="M372.48 71.94H378.14M375.31 69.11V74.77M373.31 69.94L377.31 73.94M373.31 73.94L377.31 69.94" stroke="#F564E3" stroke-width="0.95" fill="none"/><path d="M379.89 73.72H385.55M382.72 70.89V76.54M380.72 71.72L384.72 75.72M380.72 75.72L384.72 71.72" stroke="#F564E3" stroke-width="0.95" fill="none"/><path d="M387.31 76.74H392.96M390.13 73.91V79.57M388.13 74.74L392.13 78.74M388.13 78.74L392.13 74.74" stroke="#F564E3" stroke-width="0.95" fill="none"/><path d="M394.72 81.20H400.37M397.55 78.37V84.03M395.55 79.20L399.55 83.20M395.55 83.20L399.55 79.20" stroke="#F564E3" stroke-width="0.95" fill="none"/><path d="M402.13 87.17H407.79M404.96 84.34V90.00M402.96 85.17L406.96 89.17M402.96 89.17L406.96 85.17" stroke="#F564E3" stroke-width="0.95" fill="none"/><path d="M409.54 94.11H415.20M412.37 91.28V96.94M410.37 92.11L414.37 96.11M410.37 96.11L414.37 92.11" stroke="#F564E3" stroke-width="0.95" fill="none"/><path d="M416.95 101.92H422.61M419.78 99.10V104.75M417.78 99.92L421.78 103.92M417.78 103.92L421.78 99.92" stroke="#F564E3" stroke-width="0.95" fill="none"/><path d="M424.37 110.21H430.02M427.19 107.38V113.04M425.19 108.21L429.19 112.21M425.19 112.21L429.19 108.21" stroke="#F564E3" stroke-width="0.95" fill="none"/><path d="M431.78 118.50H437.43M434.61 115.67V121.33M432.61 116.50L436.61 120.50M432.61 120.50L436.61 116.50" stroke="#F564E3" stroke-width="0.95" fill="none"/><path d="M439.19 126.52H444.85M442.02 123.69V129.35M440.02 124.52L444.02 128.52M440.02 128.52L444.02 124.52" stroke="#F564E3" stroke-width="0.95" fill="none"/><path d="M446.60 133.59H452.26M449.43 130.76V136.42M447.43 131.59L451.43 135.59M447.43 135.59L451.43 131.59" stroke="#F564E3" stroke-width="0.95" fill="none"/><path d="M454.01 139.35H459.67M456.84 136.53V142.18M454.84 137.35L458.84 141.35M454.84 141.35L458.84 137.35" stroke="#F564E3" stroke-width="0.95" fill="none"/><path d="M461.43 143.57H467.08M464.25 140.74V146.40M462.25 141.57L466.25 145.57M462.25 145.57L466.25 141.57" stroke="#F564E3" stroke-width="0.95" fill="none"/><path d="M468.84 146.54H474.49M471.67 143.71V149.37M469.67 144.54L473.67 148.54M469.67 148.54L473.67 144.54" stroke="#F564E3" stroke-width="0.95" fill="none"/><path d="M476.25 148.59H481.91M479.08 145.76V151.42M477.08 146.59L481.08 150.59M477.08 150.59L481.08 146.59" stroke="#F564E3" stroke-width="0.95" fill="none"/><path d="M483.66 149.88H489.32M486.49 147.05V152.71M484.49 147.88L488.49 151.88M484.49 151.88L488.49 147.88" stroke="#F564E3" stroke-width="0.95" fill="none"/><path d="M491.07 150.63H496.73M493.90 147.80V153.46M491.90 148.63L495.90 152.63M491.90 152.63L495.90 148.63" stroke="#F564E3" stroke-width="0.95" fill="none"/><path d="M498.49 151.11H504.14M501.31 148.28V153.94M499.31 149.11L503.31 153.11M499.31 153.11L503.31 149.11" stroke="#F564E3" stroke-width="0.95" fill="none"/><path d="M505.90 151.39H511.55M508.73 148.56V154.22M506.73 149.39L510.73 153.39M506.73 153.39L510.73 149.39" stroke="#F564E3" stroke-width="0.95" fill="none"/><path d="M513.31 151.52H518.97M516.14 148.69V154.35M514.14 149.52L518.14 153.52M514.14 153.52L518.14 149.52" stroke="#F564E3" stroke-width="0.95" fill="none"/>
<path d="M375.31 44.91L378.00 49.58L372.62 49.58Z" fill="#B79F00"/><path d="M382.72 47.18L385.42 51.85L380.03 51.85Z" fill="#B79F00"/><path d="M390.13 51.00L392.83 55.67L387.44 55.67Z" fill="#B79F00"/><path d="M397.55 56.60L400.24 61.27L394.85 61.27Z" fill="#B79F00"/><path d="M404.96 64.11L407.65 68.78L402.26 68.78Z" fill="#B79F00"/><path d="M412.37 72.82L415.06 77.49L409.68 77.49Z" fill="#B79F00"/><path d="M419.78 82.63L422.48 87.29L417.09 87.29Z" fill="#B79F00"/><path d="M427.19 93.08L429.89 97.74L424.50 97.74Z" fill="#B79F00"/><path d="M434.61 103.50L437.30 108.16L431.91 108.16Z" fill="#B79F00"/><path d="M442.02 113.74L444.71 118.41L439.32 118.41Z" fill="#B79F00"/><path d="M449.43 122.91L452.12 127.58L446.74 127.58Z" fill="#B79F00"/><path d="M456.84 130.55L459.54 135.21L454.15 135.21Z" fill="#B79F00"/><path d="M464.25 136.31L466.95 140.97L461.56 140.97Z" fill="#B79F00"/><path d="M471.67 140.47L474.36 145.13L468.97 145.13Z" fill="#B79F00"/><path d="M479.08 143.41L481.77 148.07L476.38 148.07Z" fill="#B79F00"/><path d="M486.49 145.42L489.18 150.09L483.80 150.09Z" fill="#B79F00"/><path d="M493.90 146.69L496.60 151.36L491.21 151.36Z" fill="#B79F00"/><path d="M501.31 147.47L504.01 152.14L498.62 152.14Z" fill="#B79F00"/><path d="M508.73 147.98L511.42 152.64L506.03 152.64Z" fill="#B79F00"/><path d="M516.14 148.25L518.83 152.91L513.44 152.91Z" fill="#B79F00"/>
<path d="M372.48 58.88H378.14M375.31 56.05V61.70" stroke="#00BFC4" stroke-width="1.05" fill="none"/><path d="M379.89 60.92H385.55M382.72 58.09V63.75" stroke="#00BFC4" stroke-width="1.05" fill="none"/><path d="M387.31 64.39H392.96M390.13 61.56V67.22" stroke="#00BFC4" stroke-width="1.05" fill="none"/><path d="M394.72 69.49H400.37M397.55 66.67V72.32" stroke="#00BFC4" stroke-width="1.05" fill="none"/><path d="M402.13 76.33H407.79M404.96 73.51V79.16" stroke="#00BFC4" stroke-width="1.05" fill="none"/><path d="M409.54 84.27H415.20M412.37 81.44V87.10" stroke="#00BFC4" stroke-width="1.05" fill="none"/><path d="M416.95 93.21H422.61M419.78 90.38V96.04" stroke="#00BFC4" stroke-width="1.05" fill="none"/><path d="M424.37 102.70H430.02M427.19 99.88V105.53" stroke="#00BFC4" stroke-width="1.05" fill="none"/><path d="M431.78 112.19H437.43M434.61 109.37V115.02" stroke="#00BFC4" stroke-width="1.05" fill="none"/><path d="M439.19 121.45H444.85M442.02 118.62V124.28" stroke="#00BFC4" stroke-width="1.05" fill="none"/><path d="M446.60 129.67H452.26M449.43 126.84V132.50" stroke="#00BFC4" stroke-width="1.05" fill="none"/><path d="M454.01 136.44H459.67M456.84 133.61V139.27" stroke="#00BFC4" stroke-width="1.05" fill="none"/><path d="M461.43 141.47H467.08M464.25 138.64V144.30" stroke="#00BFC4" stroke-width="1.05" fill="none"/><path d="M468.84 145.06H474.49M471.67 142.23V147.89" stroke="#00BFC4" stroke-width="1.05" fill="none"/><path d="M476.25 147.57H481.91M479.08 144.74V150.40" stroke="#00BFC4" stroke-width="1.05" fill="none"/><path d="M483.66 149.26H489.32M486.49 146.43V152.09" stroke="#00BFC4" stroke-width="1.05" fill="none"/><path d="M491.07 150.26H496.73M493.90 147.43V153.09" stroke="#00BFC4" stroke-width="1.05" fill="none"/><path d="M498.49 150.88H504.14M501.31 148.06V153.71" stroke="#00BFC4" stroke-width="1.05" fill="none"/><path d="M505.90 151.27H511.55M508.73 148.44V154.09" stroke="#00BFC4" stroke-width="1.05" fill="none"/><path d="M513.31 151.45H518.97M516.14 148.62V154.28" stroke="#00BFC4" stroke-width="1.05" fill="none"/>
<path d="M375.31 34.53L382.72 37.06L390.13 41.29L397.55 47.44L404.96 55.64L412.37 65.13L419.78 75.78L427.19 87.17L434.61 98.55L442.02 109.87L449.43 120.22L456.84 129.04L464.25 135.88L471.67 140.92L479.08 144.55L486.49 147.13L493.90 148.89L501.31 149.94L508.73 150.65L516.14 151.11" stroke="#F8766D" stroke-width="1.2" fill="none" stroke-linejoin="round"/>
<path d="M375.31 48.02L382.72 50.29L390.13 54.11L397.55 59.71L404.96 67.22L412.37 75.93L419.78 85.74L427.19 96.19L434.61 106.61L442.02 116.85L449.43 126.02L456.84 133.66L464.25 139.42L471.67 143.58L479.08 146.52L486.49 148.53L493.90 149.80L501.31 150.58L508.73 151.09L516.14 151.36" stroke="#B79F00" stroke-width="1.2" fill="none" stroke-linejoin="round"/>
<path d="M375.31 52.17L382.72 54.35L390.13 58.03L397.55 63.42L404.96 70.66L412.37 79.05L419.78 88.50L427.19 98.56L434.61 108.60L442.02 118.45L449.43 127.26L456.84 134.57L464.25 140.07L471.67 144.04L479.08 146.83L486.49 148.74L493.90 149.93L501.31 150.67L508.73 151.14L516.14 151.39" stroke="#00BA38" stroke-width="1.2" fill="none" stroke-linejoin="round"/>
<path d="M375.31 58.88L382.72 60.92L390.13 64.39L397.55 69.49L404.96 76.33L412.37 84.27L419.78 93.21L427.19 102.70L434.61 112.19L442.02 121.45L449.43 129.67L456.84 136.44L464.25 141.47L471.67 145.06L479.08 147.57L486.49 149.26L493.90 150.26L501.31 150.88L508.73 151.27L516.14 151.45" stroke="#00BFC4" stroke-width="1.2" fill="none" stroke-linejoin="round"/>
<path d="M375.31 63.99L382.72 65.94L390.13 69.24L397.55 74.10L404.96 80.62L412.37 88.18L419.78 96.70L427.19 105.74L434.61 114.78L442.02 123.56L449.43 131.34L456.84 137.70L464.25 142.40L471.67 145.73L479.08 148.04L486.49 149.58L493.90 150.44L501.31 150.99L508.73 151.32L516.14 151.48" stroke="#619CFF" stroke-width="1.2" fill="none" stroke-linejoin="round"/>
<path d="M375.31 71.94L382.72 73.72L390.13 76.74L397.55 81.20L404.96 87.17L412.37 94.11L419.78 101.92L427.19 110.21L434.61 118.50L442.02 126.52L449.43 133.59L456.84 139.35L464.25 143.57L471.67 146.54L479.08 148.59L486.49 149.88L493.90 150.63L501.31 151.11L508.73 151.39L516.14 151.52" stroke="#F564E3" stroke-width="1.2" fill="none" stroke-linejoin="round"/>
<rect x="368.40" y="28.35" width="154.25" height="129.15" fill="none" stroke="#cecece" stroke-width="1"/>
</g>
<g>
<path d="M46.50 265.78H200.75M46.50 221.63H200.75M46.50 177.48H200.75M70.85 164.50V293.65M114.45 164.50V293.65M158.05 164.50V293.65" stroke="#f2f2f2" stroke-width="0.6" fill="none"/>
<path d="M46.50 287.85H200.75M46.50 243.70H200.75M46.50 199.55H200.75M49.05 164.50V293.65M92.65 164.50V293.65M136.25 164.50V293.65M179.85 164.50V293.65" stroke="#e8e8e8" stroke-width="0.9" fill="none"/>
<rect x="51.41" y="214.50" width="4.0" height="4.0" fill="#00BA38"/><rect x="58.82" y="216.50" width="4.0" height="4.0" fill="#00BA38"/><rect x="66.23" y="219.89" width="4.0" height="4.0" fill="#00BA38"/><rect x="73.65" y="224.84" width="4.0" height="4.0" fill="#00BA38"/><rect x="81.06" y="231.11" width="4.0" height="4.0" fill="#00BA38"/><rect x="88.47" y="238.27" width="4.0" height="4.0" fill="#00BA38"/><rect x="95.88" y="245.64" width="4.0" height="4.0" fill="#00BA38"/><rect x="103.29" y="252.78" width="4.0" height="4.0" fill="#00BA38"/><rect x="110.71" y="259.69" width="4.0" height="4.0" fill="#00BA38"/><rect x="118.12" y="265.90" width="4.0" height="4.0" fill="#00BA38"/><rect x="125.53" y="271.12" width="4.0" height="4.0" fill="#00BA38"/><rect x="132.94" y="275.25" width="4.0" height="4.0" fill="#00BA38"/><rect x="140.35" y="278.35" width="4.0" height="4.0" fill="#00BA38"/><rect x="147.77" y="280.62" width="4.0" height="4.0" fill="#00BA38"/><rect x="155.18" y="282.27" width="4.0" height="4.0" fill="#00BA38"/><rect x="162.59" y="283.45" width="4.0" height="4.0" fill="#00BA38"/><rect x="170.00" y="284.28" width="4.0" height="4.0" fill="#00BA38"/><rect x="177.41" y="284.88" width="4.0" height="4.0" fill="#00BA38"/><rect x="184.83" y="285.28" width="4.0" height="4.0" fill="#00BA38"/><rect x="192.24" y="285.53" width="4.0" height="4.0" fill="#00BA38"/>
<path d="M51.41 224.48H55.41V228.48H51.41ZM51.41 226.48H55.41M53.41 224.48V228.48" stroke="#619CFF" stroke-width="1.25" fill="none"/><path d="M58.82 226.32H62.82V230.32H58.82ZM58.82 228.32H62.82M60.82 226.32V230.32" stroke="#619CFF" stroke-width="1.25" fill="none"/><path d="M66.23 229.45H70.23V233.45H66.23ZM66.23 231.45H70.23M68.23 229.45V233.45" stroke="#619CFF" stroke-width="1.25" fill="none"/><path d="M73.65 234.02H77.65V238.02H73.65ZM73.65 236.02H77.65M75.65 234.02V238.02" stroke="#619CFF" stroke-width="1.25" fill="none"/><path d="M81.06 239.75H85.06V243.75H81.06ZM81.06 241.75H85.06M83.06 239.75V243.75" stroke="#619CFF" stroke-width="1.25" fill="none"/><path d="M88.47 246.26H92.47V250.26H88.47ZM88.47 248.26H92.47M90.47 246.26V250.26" stroke="#619CFF" stroke-width="1.25" fill="none"/><path d="M95.88 252.92H99.88V256.92H95.88ZM95.88 254.92H99.88M97.88 252.92V256.92" stroke="#619CFF" stroke-width="1.25" fill="none"/><path d="M103.29 259.27H107.29V263.27H103.29ZM103.29 261.27H107.29M105.29 259.27V263.27" stroke="#619CFF" stroke-width="1.25" fill="none"/><path d="M110.71 265.32H114.71V269.32H110.71ZM110.71 267.32H114.71M112.71 265.32V269.32" stroke="#619CFF" stroke-width="1.25" fill="none"/><path d="M118.12 270.59H122.12V274.59H118.12ZM118.12 272.59H122.12M120.12 270.59V274.59" stroke="#619CFF" stroke-width="1.25" fill="none"/><path d="M125.53 274.89H129.53V278.89H125.53ZM125.53 276.89H129.53M127.53 274.89V278.89" stroke="#619CFF" stroke-width="1.25" fill="none"/><path d="M132.94 278.19H136.94V282.19H132.94ZM132.94 280.19H136.94M134.94 278.19V282.19" stroke="#619CFF" stroke-width="1.25" fill="none"/><path d="M140.35 280.58H144.35V284.58H140.35ZM140.35 282.58H144.35M142.35 280.58V284.58" stroke="#619CFF" stroke-width="1.25" fill="none"/><path d="M147.77 282.30H151.77V286.30H147.77ZM147.77 284.30H151.77M149.77 282.30V286.30" stroke="#619CFF" stroke-width="1.25" fill="none"/><path d="M155.18 283.51H159.18V287.51H155.18ZM155.18 285.51H159.18M157.18 283.51V287.51" stroke="#619CFF" stroke-width="1.25" fill="none"/><path d="M162.59 284.34H166.59V288.34H162.59ZM162.59 286.34H166.59M164.59 284.34V288.34" stroke="#619CFF" stroke-width="1.25" fill="none"/><path d="M170.00 284.85H174.00V288.85H170.00ZM170.00 286.85H174.00M172.00 284.85V288.85" stroke="#619CFF" stroke-width="1.25" fill="none"/><path d="M177.41 285.26H181.41V289.26H177.41ZM177.41 287.26H181.41M179.41 285.26V289.26" stroke="#619CFF" stroke-width="1.25" fill="none"/><path d="M184.83 285.53H188.83V289.53H184.83ZM184.83 287.53H188.83M186.83 285.53V289.53" stroke="#619CFF" stroke-width="1.25" fill="none"/><path d="M192.24 285.67H196.24V289.67H192.24ZM192.24 287.67H196.24M194.24 285.67V289.67" stroke="#619CFF" stroke-width="1.25" fill="none"/>
<circle cx="53.41" cy="195.40" r="2.0" fill="#F8766D"/><circle cx="60.82" cy="197.75" r="2.0" fill="#F8766D"/><circle cx="68.23" cy="201.74" r="2.0" fill="#F8766D"/><circle cx="75.65" cy="207.56" r="2.0" fill="#F8766D"/><circle cx="83.06" cy="215.07" r="2.0" fill="#F8766D"/><circle cx="90.47" cy="223.68" r="2.0" fill="#F8766D"/><circle cx="97.88" cy="232.63" r="2.0" fill="#F8766D"/><circle cx="105.29" cy="241.46" r="2.0" fill="#F8766D"/><circle cx="112.71" cy="250.02" r="2.0" fill="#F8766D"/><circle cx="120.12" cy="258.06" r="2.0" fill="#F8766D"/><circle cx="127.53" cy="265.10" r="2.0" fill="#F8766D"/><circle cx="134.94" cy="270.97" r="2.0" fill="#F8766D"/><circle cx="142.35" cy="275.62" r="2.0" fill="#F8766D"/><circle cx="149.77" cy="279.06" r="2.0" fill="#F8766D"/><circle cx="157.18" cy="281.56" r="2.0" fill="#F8766D"/><circle cx="164.59" cy="283.42" r="2.0" fill="#F8766D"/><circle cx="172.00" cy="284.82" r="2.0" fill="#F8766D"/><circle cx="179.41" cy="285.95" r="2.0" fill="#F8766D"/><circle cx="186.83" cy="286.66" r="2.0" fill="#F8766D"/><circle cx="194.24" cy="287.13" r="2.0" fill="#F8766D"/>
<path d="M50.58 231.43H56.24M53.41 228.60V234.25M51.41 229.43L55.41 233.43M51.41 233.43L55.41 229.43" stroke="#F564E3" stroke-width="0.95" fill="none"/><path d="M57.99 233.17H63.65M60.82 230.34V236.00M58.82 231.17L62.82 235.17M58.82 235.17L62.82 231.17" stroke="#F564E3" stroke-width="0.95" fill="none"/><path d="M65.41 236.15H71.06M68.23 233.32V238.98M66.23 234.15L70.23 238.15M66.23 238.15L70.23 234.15" stroke="#F564E3" stroke-width="0.95" fill="none"/><path d="M72.82 240.50H78.47M75.65 237.67V243.33M73.65 238.50L77.65 242.50M73.65 242.50L77.65 238.50" stroke="#F564E3" stroke-width="0.95" fill="none"/><path d="M80.23 245.91H85.89M83.06 243.08V248.74M81.06 243.91L85.06 247.91M81.06 247.91L85.06 243.91" stroke="#F564E3" stroke-width="0.95" fill="none"/><path d="M87.64 252.09H93.30M90.47 249.26V254.92M88.47 250.09L92.47 254.09M88.47 254.09L92.47 250.09" stroke="#F564E3" stroke-width="0.95" fill="none"/><path d="M95.05 258.33H100.71M97.88 255.50V261.16M95.88 256.33L99.88 260.33M95.88 260.33L99.88 256.33" stroke="#F564E3" stroke-width="0.95" fill="none"/><path d="M102.47 264.27H108.12M105.29 261.44V267.10M103.29 262.27L107.29 266.27M103.29 266.27L107.29 262.27" stroke="#F564E3" stroke-width="0.95" fill="none"/><path d="M109.88 269.84H115.53M112.71 267.02V272.67M110.71 267.84L114.71 271.84M110.71 271.84L114.71 267.84" stroke="#F564E3" stroke-width="0.95" fill="none"/><path d="M117.29 274.63H122.95M120.12 271.81V277.46M118.12 272.63L122.12 276.63M118.12 276.63L122.12 272.63" stroke="#F564E3" stroke-width="0.95" fill="none"/><path d="M124.70 278.48H130.36M127.53 275.65V281.31M125.53 276.48L129.53 280.48M125.53 280.48L129.53 276.48" stroke="#F564E3" stroke-width="0.95" fill="none"/><path d="M132.11 281.37H137.77M134.94 278.55V284.20M132.94 279.37L136.94 283.37M132.94 283.37L136.94 279.37" stroke="#F564E3" stroke-width="0.95" fill="none"/><path d="M139.53 283.45H145.18M142.35 280.62V286.28M140.35 281.45L144.35 285.45M140.35 285.45L144.35 281.45" stroke="#F564E3" stroke-width="0.95" fill="none"/><path d="M146.94 284.92H152.59M149.77 282.09V287.75M147.77 282.92L151.77 286.92M147.77 286.92L151.77 282.92" stroke="#F564E3" stroke-width="0.95" fill="none"/><path d="M154.35 285.94H160.01M157.18 283.12V288.77M155.18 283.94L159.18 287.94M155.18 287.94L159.18 283.94" stroke="#F564E3" stroke-width="0.95" fill="none"/><path d="M161.76 286.63H167.42M164.59 283.80V289.46M162.59 284.63L166.59 288.63M162.59 288.63L166.59 284.63" stroke="#F564E3" stroke-width="0.95" fill="none"/><path d="M169.17 287.06H174.83M172.00 284.23V289.89M170.00 285.06L174.00 289.06M170.00 289.06L174.00 285.06" stroke="#F564E3" stroke-width="0.95" fill="none"/><path d="M176.59 287.40H182.24M179.41 284.57V290.23M177.41 285.40L181.41 289.40M177.41 289.40L181.41 285.40" stroke="#F564E3" stroke-width="0.95" fill="none"/><path d="M184.00 287.60H189.65M186.83 284.78V290.43M184.83 285.60L188.83 289.60M184.83 289.60L188.83 285.60" stroke="#F564E3" stroke-width="0.95" fill="none"/><path d="M191.41 287.70H197.07M194.24 284.87V290.53M192.24 285.70L196.24 289.70M192.24 289.70L196.24 285.70" stroke="#F564E3" stroke-width="0.95" fill="none"/>
<path d="M53.41 208.98L56.10 213.64L50.72 213.64Z" fill="#B79F00"/><path d="M60.82 211.08L63.52 215.75L58.13 215.75Z" fill="#B79F00"/><path d="M68.23 214.66L70.93 219.33L65.54 219.33Z" fill="#B79F00"/><path d="M75.65 219.89L78.34 224.56L72.95 224.56Z" fill="#B79F00"/><path d="M83.06 226.52L85.75 231.19L80.36 231.19Z" fill="#B79F00"/><path d="M90.47 234.09L93.16 238.75L87.78 238.75Z" fill="#B79F00"/><path d="M97.88 241.89L100.58 246.55L95.19 246.55Z" fill="#B79F00"/><path d="M105.29 249.45L107.99 254.11L102.60 254.11Z" fill="#B79F00"/><path d="M112.71 256.77L115.40 261.43L110.01 261.43Z" fill="#B79F00"/><path d="M120.12 263.36L122.81 268.03L117.42 268.03Z" fill="#B79F00"/><path d="M127.53 268.91L130.22 273.58L124.84 273.58Z" fill="#B79F00"/><path d="M134.94 273.33L137.64 278.00L132.25 278.00Z" fill="#B79F00"/><path d="M142.35 276.66L145.05 281.32L139.66 281.32Z" fill="#B79F00"/><path d="M149.77 279.09L152.46 283.76L147.07 283.76Z" fill="#B79F00"/><path d="M157.18 280.86L159.87 285.53L154.48 285.53Z" fill="#B79F00"/><path d="M164.59 282.13L167.28 286.80L161.90 286.80Z" fill="#B79F00"/><path d="M172.00 283.04L174.70 287.70L169.31 287.70Z" fill="#B79F00"/><path d="M179.41 283.68L182.11 288.35L176.72 288.35Z" fill="#B79F00"/><path d="M186.83 284.12L189.52 288.78L184.13 288.78Z" fill="#B79F00"/><path d="M194.24 284.39L196.93 289.06L191.54 289.06Z" fill="#B79F00"/>
<path d="M50.58 222.60H56.24M53.41 219.77V225.42" stroke="#00BFC4" stroke-width="1.05" fill="none"/><path d="M57.99 224.48H63.65M60.82 221.66V227.31" stroke="#00BFC4" stroke-width="1.05" fill="none"/><path d="M65.41 227.70H71.06M68.23 224.87V230.53" stroke="#00BFC4" stroke-width="1.05" fill="none"/><path d="M72.82 232.40H78.47M75.65 229.57V235.22" stroke="#00BFC4" stroke-width="1.05" fill="none"/><path d="M80.23 238.31H85.89M83.06 235.48V241.13" stroke="#00BFC4" stroke-width="1.05" fill="none"/><path d="M87.64 245.04H93.30M90.47 242.21V247.87" stroke="#00BFC4" stroke-width="1.05" fill="none"/><path d="M95.05 251.96H100.71M97.88 249.13V254.78" stroke="#00BFC4" stroke-width="1.05" fill="none"/><path d="M102.47 258.60H108.12M105.29 255.77V261.43" stroke="#00BFC4" stroke-width="1.05" fill="none"/><path d="M109.88 265.02H115.53M112.71 262.19V267.84" stroke="#00BFC4" stroke-width="1.05" fill="none"/><path d="M117.29 270.68H122.95M120.12 267.85V273.50" stroke="#00BFC4" stroke-width="1.05" fill="none"/><path d="M124.70 275.37H130.36M127.53 272.54V278.20" stroke="#00BFC4" stroke-width="1.05" fill="none"/><path d="M132.11 279.04H137.77M134.94 276.21V281.87" stroke="#00BFC4" stroke-width="1.05" fill="none"/><path d="M139.53 281.70H145.18M142.35 278.87V284.53" stroke="#00BFC4" stroke-width="1.05" fill="none"/><path d="M146.94 283.61H152.59M149.77 280.79V286.44" stroke="#00BFC4" stroke-width="1.05" fill="none"/><path d="M154.35 284.98H160.01M157.18 282.16V287.81" stroke="#00BFC4" stroke-width="1.05" fill="none"/><path d="M161.76 285.95H167.42M164.59 283.12V288.78" stroke="#00BFC4" stroke-width="1.05" fill="none"/><path d="M169.17 286.60H174.83M172.00 283.77V289.43" stroke="#00BFC4" stroke-width="1.05" fill="none"/><path d="M176.59 287.09H182.24M179.41 284.27V289.92" stroke="#00BFC4" stroke-width="1.05" fill="none"/><path d="M184.00 287.42H189.65M186.83 284.59V290.25" stroke="#00BFC4" stroke-width="1.05" fill="none"/><path d="M191.41 287.61H197.07M194.24 284.78V290.43" stroke="#00BFC4" stroke-width="1.05" fill="none"/>
<path d="M53.41 195.40L60.82 197.75L68.23 201.74L75.65 207.56L83.06 215.07L90.47 223.68L97.88 232.63L105.29 241.46L112.71 250.02L120.12 258.06L127.53 265.10L134.94 270.97L142.35 275.62L149.77 279.06L157.18 281.56L164.59 283.42L172.00 284.82L179.41 285.95L186.83 286.66L194.24 287.13" stroke="#F8766D" stroke-width="1.2" fill="none" stroke-linejoin="round"/>
<path d="M53.41 212.09L60.82 214.19L68.23 217.77L75.65 223.00L83.06 229.63L90.47 237.20L97.88 245.00L105.29 252.56L112.71 259.88L120.12 266.47L127.53 272.02L134.94 276.44L142.35 279.77L149.77 282.20L157.18 283.97L164.59 285.24L172.00 286.15L179.41 286.79L186.83 287.23L194.24 287.50" stroke="#B79F00" stroke-width="1.2" fill="none" stroke-linejoin="round"/>
<path d="M53.41 216.50L60.82 218.50L68.23 221.89L75.65 226.84L83.06 233.11L90.47 240.27L97.88 247.64L105.29 254.78L112.71 261.69L120.12 267.90L127.53 273.12L134.94 277.25L142.35 280.35L149.77 282.62L157.18 284.27L164.59 285.45L172.00 286.28L179.41 286.88L186.83 287.28L194.24 287.53" stroke="#00BA38" stroke-width="1.2" fill="none" stroke-linejoin="round"/>
<path d="M53.41 222.60L60.82 224.48L68.23 227.70L75.65 232.40L83.06 238.31L90.47 245.04L97.88 251.96L105.29 258.60L112.71 265.02L120.12 270.68L127.53 275.37L134.94 279.04L142.35 281.70L149.77 283.61L157.18 284.98L164.59 285.95L172.00 286.60L179.41 287.09L186.83 287.42L194.24 287.61" stroke="#00BFC4" stroke-width="1.2" fill="none" stroke-linejoin="round"/>
<path d="M53.41 226.48L60.82 228.32L68.23 231.45L75.65 236.02L83.06 241.75L90.47 248.26L97.88 254.92L105.29 261.27L112.71 267.32L120.12 272.59L127.53 276.89L134.94 280.19L142.35 282.58L149.77 284.30L157.18 285.51L164.59 286.34L172.00 286.85L179.41 287.26L186.83 287.53L194.24 287.67" stroke="#619CFF" stroke-width="1.2" fill="none" stroke-linejoin="round"/>
<path d="M53.41 231.43L60.82 233.17L68.23 236.15L75.65 240.50L83.06 245.91L90.47 252.09L97.88 258.33L105.29 264.27L112.71 269.84L120.12 274.63L127.53 278.48L134.94 281.37L142.35 283.45L149.77 284.92L157.18 285.94L164.59 286.63L172.00 287.06L179.41 287.40L186.83 287.60L194.24 287.70" stroke="#F564E3" stroke-width="1.2" fill="none" stroke-linejoin="round"/>
<rect x="46.50" y="164.50" width="154.25" height="129.15" fill="none" stroke="#cecece" stroke-width="1"/>
</g>
<g>
<path d="M207.45 265.78H361.70M207.45 221.63H361.70M207.45 177.48H361.70M231.80 164.50V293.65M275.40 164.50V293.65M319.00 164.50V293.65" stroke="#f2f2f2" stroke-width="0.6" fill="none"/>
<path d="M207.45 287.85H361.70M207.45 243.70H361.70M207.45 199.55H361.70M210.00 164.50V293.65M253.60 164.50V293.65M297.20 164.50V293.65M340.80 164.50V293.65" stroke="#e8e8e8" stroke-width="0.9" fill="none"/>
<rect x="212.36" y="221.37" width="4.0" height="4.0" fill="#00BA38"/><rect x="219.77" y="222.86" width="4.0" height="4.0" fill="#00BA38"/><rect x="227.18" y="225.40" width="4.0" height="4.0" fill="#00BA38"/><rect x="234.60" y="229.16" width="4.0" height="4.0" fill="#00BA38"/><rect x="242.01" y="234.15" width="4.0" height="4.0" fill="#00BA38"/><rect x="249.42" y="239.94" width="4.0" height="4.0" fill="#00BA38"/><rect x="256.83" y="246.36" width="4.0" height="4.0" fill="#00BA38"/><rect x="264.24" y="253.07" width="4.0" height="4.0" fill="#00BA38"/><rect x="271.66" y="259.75" width="4.0" height="4.0" fill="#00BA38"/><rect x="279.07" y="266.13" width="4.0" height="4.0" fill="#00BA38"/><rect x="286.48" y="271.70" width="4.0" height="4.0" fill="#00BA38"/><rect x="293.89" y="276.20" width="4.0" height="4.0" fill="#00BA38"/><rect x="301.30" y="279.54" width="4.0" height="4.0" fill="#00BA38"/><rect x="308.72" y="281.90" width="4.0" height="4.0" fill="#00BA38"/><rect x="316.13" y="283.46" width="4.0" height="4.0" fill="#00BA38"/><rect x="323.54" y="284.46" width="4.0" height="4.0" fill="#00BA38"/><rect x="330.95" y="285.04" width="4.0" height="4.0" fill="#00BA38"/><rect x="338.36" y="285.42" width="4.0" height="4.0" fill="#00BA38"/><rect x="345.78" y="285.62" width="4.0" height="4.0" fill="#00BA38"/><rect x="353.19" y="285.72" width="4.0" height="4.0" fill="#00BA38"/>
<path d="M212.36 230.37H216.36V234.37H212.36ZM212.36 232.37H216.36M214.36 230.37V234.37" stroke="#619CFF" stroke-width="1.25" fill="none"/><path d="M219.77 231.68H223.77V235.68H219.77ZM219.77 233.68H223.77M221.77 231.68V235.68" stroke="#619CFF" stroke-width="1.25" fill="none"/><path d="M227.18 233.94H231.18V237.94H227.18ZM227.18 235.94H231.18M229.18 233.94V237.94" stroke="#619CFF" stroke-width="1.25" fill="none"/><path d="M234.60 237.31H238.60V241.31H234.60ZM234.60 239.31H238.60M236.60 237.31V241.31" stroke="#619CFF" stroke-width="1.25" fill="none"/><path d="M242.01 241.77H246.01V245.77H242.01ZM242.01 243.77H246.01M244.01 241.77V245.77" stroke="#619CFF" stroke-width="1.25" fill="none"/><path d="M249.42 246.96H253.42V250.96H249.42ZM249.42 248.96H253.42M251.42 246.96V250.96" stroke="#619CFF" stroke-width="1.25" fill="none"/><path d="M256.83 252.73H260.83V256.73H256.83ZM256.83 254.73H260.83M258.83 252.73V256.73" stroke="#619CFF" stroke-width="1.25" fill="none"/><path d="M264.24 258.71H268.24V262.71H264.24ZM264.24 260.71H268.24M266.24 258.71V262.71" stroke="#619CFF" stroke-width="1.25" fill="none"/><path d="M271.66 264.70H275.66V268.70H271.66ZM271.66 266.70H275.66M273.66 264.70V268.70" stroke="#619CFF" stroke-width="1.25" fill="none"/><path d="M279.07 270.31H283.07V274.31H279.07ZM279.07 272.31H283.07M281.07 270.31V274.31" stroke="#619CFF" stroke-width="1.25" fill="none"/><path d="M286.48 275.11H290.48V279.11H286.48ZM286.48 277.11H290.48M288.48 275.11V279.11" stroke="#619CFF" stroke-width="1.25" fill="none"/><path d="M293.89 278.75H297.89V282.75H293.89ZM293.89 280.75H297.89M295.89 278.75V282.75" stroke="#619CFF" stroke-width="1.25" fill="none"/><path d="M301.30 281.34H305.30V285.34H301.30ZM301.30 283.34H305.30M303.30 281.34V285.34" stroke="#619CFF" stroke-width="1.25" fill="none"/><path d="M308.72 283.13H312.72V287.13H308.72ZM308.72 285.13H312.72M310.72 283.13V287.13" stroke="#619CFF" stroke-width="1.25" fill="none"/><path d="M316.13 284.31H320.13V288.31H316.13ZM316.13 286.31H320.13M318.13 284.31V288.31" stroke="#619CFF" stroke-width="1.25" fill="none"/><path d="M323.54 285.00H327.54V289.00H323.54ZM323.54 287.00H327.54M325.54 285.00V289.00" stroke="#619CFF" stroke-width="1.25" fill="none"/><path d="M330.95 285.40H334.95V289.40H330.95ZM330.95 287.40H334.95M332.95 285.40V289.40" stroke="#619CFF" stroke-width="1.25" fill="none"/><path d="M338.36 285.62H342.36V289.62H338.36ZM338.36 287.62H342.36M340.36 285.62V289.62" stroke="#619CFF" stroke-width="1.25" fill="none"/><path d="M345.78 285.72H349.78V289.72H345.78ZM345.78 287.72H349.78M347.78 285.72V289.72" stroke="#619CFF" stroke-width="1.25" fill="none"/><path d="M353.19 285.79H357.19V289.79H353.19ZM353.19 287.79H357.19M355.19 285.79V289.79" stroke="#619CFF" stroke-width="1.25" fill="none"/>
<circle cx="214.36" cy="204.58" r="2.0" fill="#F8766D"/><circle cx="221.77" cy="206.41" r="2.0" fill="#F8766D"/><circle cx="229.18" cy="209.50" r="2.0" fill="#F8766D"/><circle cx="236.60" cy="213.99" r="2.0" fill="#F8766D"/><circle cx="244.01" cy="219.99" r="2.0" fill="#F8766D"/><circle cx="251.42" cy="226.90" r="2.0" fill="#F8766D"/><circle cx="258.83" cy="234.56" r="2.0" fill="#F8766D"/><circle cx="266.24" cy="242.64" r="2.0" fill="#F8766D"/><circle cx="273.66" cy="250.63" r="2.0" fill="#F8766D"/><circle cx="281.07" cy="258.54" r="2.0" fill="#F8766D"/><circle cx="288.48" cy="265.70" r="2.0" fill="#F8766D"/><circle cx="295.89" cy="271.78" r="2.0" fill="#F8766D"/><circle cx="303.30" cy="276.61" r="2.0" fill="#F8766D"/><circle cx="310.72" cy="280.19" r="2.0" fill="#F8766D"/><circle cx="318.13" cy="282.77" r="2.0" fill="#F8766D"/><circle cx="325.54" cy="284.60" r="2.0" fill="#F8766D"/><circle cx="332.95" cy="285.85" r="2.0" fill="#F8766D"/><circle cx="340.36" cy="286.60" r="2.0" fill="#F8766D"/><circle cx="347.78" cy="287.10" r="2.0" fill="#F8766D"/><circle cx="355.19" cy="287.43" r="2.0" fill="#F8766D"/>
<path d="M211.53 236.96H217.19M214.36 234.13V239.79M212.36 234.96L216.36 238.96M212.36 238.96L216.36 234.96" stroke="#F564E3" stroke-width="0.95" fill="none"/><path d="M218.94 238.18H224.60M221.77 235.35V241.00M219.77 236.18L223.77 240.18M219.77 240.18L223.77 236.18" stroke="#F564E3" stroke-width="0.95" fill="none"/><path d="M226.36 240.28H232.01M229.18 237.45V243.11M227.18 238.28L231.18 242.28M227.18 242.28L231.18 238.28" stroke="#F564E3" stroke-width="0.95" fill="none"/><path d="M233.77 243.41H239.42M236.60 240.58V246.24M234.60 241.41L238.60 245.41M234.60 245.41L238.60 241.41" stroke="#F564E3" stroke-width="0.95" fill="none"/><path d="M241.18 247.56H246.84M244.01 244.74V250.39M242.01 245.56L246.01 249.56M242.01 249.56L246.01 245.56" stroke="#F564E3" stroke-width="0.95" fill="none"/><path d="M248.59 252.41H254.25M251.42 249.58V255.24M249.42 250.41L253.42 254.41M249.42 254.41L253.42 250.41" stroke="#F564E3" stroke-width="0.95" fill="none"/><path d="M256.00 257.78H261.66M258.83 254.95V260.61M256.83 255.78L260.83 259.78M256.83 259.78L260.83 255.78" stroke="#F564E3" stroke-width="0.95" fill="none"/><path d="M263.42 263.35H269.07M266.24 260.52V266.18M264.24 261.35L268.24 265.35M264.24 265.35L268.24 261.35" stroke="#F564E3" stroke-width="0.95" fill="none"/><path d="M270.83 268.92H276.48M273.66 266.09V271.75M271.66 266.92L275.66 270.92M271.66 270.92L275.66 266.92" stroke="#F564E3" stroke-width="0.95" fill="none"/><path d="M278.24 274.11H283.90M281.07 271.29V276.94M279.07 272.11L283.07 276.11M279.07 276.11L283.07 272.11" stroke="#F564E3" stroke-width="0.95" fill="none"/><path d="M285.65 278.42H291.31M288.48 275.59V281.25M286.48 276.42L290.48 280.42M286.48 280.42L290.48 276.42" stroke="#F564E3" stroke-width="0.95" fill="none"/><path d="M293.06 281.70H298.72M295.89 278.87V284.53M293.89 279.70L297.89 283.70M293.89 283.70L297.89 279.70" stroke="#F564E3" stroke-width="0.95" fill="none"/><path d="M300.48 284.01H306.13M303.30 281.19V286.84M301.30 282.01L305.30 286.01M301.30 286.01L305.30 282.01" stroke="#F564E3" stroke-width="0.95" fill="none"/><path d="M307.89 285.60H313.54M310.72 282.77V288.43M308.72 283.60L312.72 287.60M308.72 287.60L312.72 283.60" stroke="#F564E3" stroke-width="0.95" fill="none"/><path d="M315.30 286.63H320.96M318.13 283.80V289.46M316.13 284.63L320.13 288.63M316.13 288.63L320.13 284.63" stroke="#F564E3" stroke-width="0.95" fill="none"/><path d="M322.71 287.16H328.37M325.54 284.34V289.99M323.54 285.16L327.54 289.16M323.54 289.16L327.54 285.16" stroke="#F564E3" stroke-width="0.95" fill="none"/><path d="M330.12 287.50H335.78M332.95 284.67V290.33M330.95 285.50L334.95 289.50M330.95 289.50L334.95 285.50" stroke="#F564E3" stroke-width="0.95" fill="none"/><path d="M337.54 287.68H343.19M340.36 284.85V290.51M338.36 285.68L342.36 289.68M338.36 289.68L342.36 285.68" stroke="#F564E3" stroke-width="0.95" fill="none"/><path d="M344.95 287.75H350.60M347.78 284.93V290.58M345.78 285.75L349.78 289.75M345.78 289.75L349.78 285.75" stroke="#F564E3" stroke-width="0.95" fill="none"/><path d="M352.36 287.81H358.02M355.19 284.98V290.64M353.19 285.81L357.19 289.81M353.19 289.81L357.19 285.81" stroke="#F564E3" stroke-width="0.95" fill="none"/>
<path d="M214.36 216.73L217.05 221.40L211.67 221.40Z" fill="#B79F00"/><path d="M221.77 218.28L224.47 222.95L219.08 222.95Z" fill="#B79F00"/><path d="M229.18 220.93L231.88 225.59L226.49 225.59Z" fill="#B79F00"/><path d="M236.60 224.83L239.29 229.49L233.90 229.49Z" fill="#B79F00"/><path d="M244.01 230.01L246.70 234.67L241.31 234.67Z" fill="#B79F00"/><path d="M251.42 236.02L254.11 240.68L248.73 240.68Z" fill="#B79F00"/><path d="M258.83 242.68L261.53 247.34L256.14 247.34Z" fill="#B79F00"/><path d="M266.24 249.64L268.94 254.31L263.55 254.31Z" fill="#B79F00"/><path d="M273.66 256.57L276.35 261.24L270.96 261.24Z" fill="#B79F00"/><path d="M281.07 263.24L283.76 267.91L278.37 267.91Z" fill="#B79F00"/><path d="M288.48 269.11L291.17 273.78L285.79 273.78Z" fill="#B79F00"/><path d="M295.89 273.91L298.59 278.57L293.20 278.57Z" fill="#B79F00"/><path d="M303.30 277.52L306.00 282.19L300.61 282.19Z" fill="#B79F00"/><path d="M310.72 280.11L313.41 284.77L308.02 284.77Z" fill="#B79F00"/><path d="M318.13 281.90L320.82 286.57L315.43 286.57Z" fill="#B79F00"/><path d="M325.54 283.09L328.23 287.76L322.85 287.76Z" fill="#B79F00"/><path d="M332.95 283.76L335.65 288.43L330.26 288.43Z" fill="#B79F00"/><path d="M340.36 284.19L343.06 288.85L337.67 288.85Z" fill="#B79F00"/><path d="M347.78 284.45L350.47 289.11L345.08 289.11Z" fill="#B79F00"/><path d="M355.19 284.57L357.88 289.23L352.49 289.23Z" fill="#B79F00"/>
<path d="M211.53 228.75H217.19M214.36 225.92V231.58" stroke="#00BFC4" stroke-width="1.05" fill="none"/><path d="M218.94 230.14H224.60M221.77 227.31V232.96" stroke="#00BFC4" stroke-width="1.05" fill="none"/><path d="M226.36 232.51H232.01M229.18 229.68V235.34" stroke="#00BFC4" stroke-width="1.05" fill="none"/><path d="M233.77 236.04H239.42M236.60 233.21V238.87" stroke="#00BFC4" stroke-width="1.05" fill="none"/><path d="M241.18 240.72H246.84M244.01 237.89V243.55" stroke="#00BFC4" stroke-width="1.05" fill="none"/><path d="M248.59 246.17H254.25M251.42 243.34V248.99" stroke="#00BFC4" stroke-width="1.05" fill="none"/><path d="M256.00 252.20H261.66M258.83 249.38V255.03" stroke="#00BFC4" stroke-width="1.05" fill="none"/><path d="M263.42 258.49H269.07M266.24 255.66V261.31" stroke="#00BFC4" stroke-width="1.05" fill="none"/><path d="M270.83 264.76H276.48M273.66 261.93V267.59" stroke="#00BFC4" stroke-width="1.05" fill="none"/><path d="M278.24 270.69H283.90M281.07 267.86V273.51" stroke="#00BFC4" stroke-width="1.05" fill="none"/><path d="M285.65 275.80H291.31M288.48 272.97V278.63" stroke="#00BFC4" stroke-width="1.05" fill="none"/><path d="M293.06 279.86H298.72M295.89 277.03V282.69" stroke="#00BFC4" stroke-width="1.05" fill="none"/><path d="M300.48 282.69H306.13M303.30 279.86V285.52" stroke="#00BFC4" stroke-width="1.05" fill="none"/><path d="M307.89 284.66H313.54M310.72 281.83V287.49" stroke="#00BFC4" stroke-width="1.05" fill="none"/><path d="M315.30 285.99H320.96M318.13 283.16V288.82" stroke="#00BFC4" stroke-width="1.05" fill="none"/><path d="M322.71 286.80H328.37M325.54 283.97V289.63" stroke="#00BFC4" stroke-width="1.05" fill="none"/><path d="M330.12 287.28H335.78M332.95 284.45V290.11" stroke="#00BFC4" stroke-width="1.05" fill="none"/><path d="M337.54 287.57H343.19M340.36 284.74V290.40" stroke="#00BFC4" stroke-width="1.05" fill="none"/><path d="M344.95 287.69H350.60M347.78 284.86V290.52" stroke="#00BFC4" stroke-width="1.05" fill="none"/><path d="M352.36 287.77H358.02M355.19 284.94V290.59" stroke="#00BFC4" stroke-width="1.05" fill="none"/>
<path d="M214.36 204.58L221.77 206.41L229.18 209.50L236.60 213.99L244.01 219.99L251.42 226.90L258.83 234.56L266.24 242.64L273.66 250.63L281.07 258.54L288.48 265.70L295.89 271.78L303.30 276.61L310.72 280.19L318.13 282.77L325.54 284.60L332.95 285.85L340.36 286.60L347.78 287.10L355.19 287.43" stroke="#F8766D" stroke-width="1.2" fill="none" stroke-linejoin="round"/>
<path d="M214.36 219.84L221.77 221.39L229.18 224.04L236.60 227.94L244.01 233.12L251.42 239.13L258.83 245.79L266.24 252.75L273.66 259.68L281.07 266.35L288.48 272.22L295.89 277.02L303.30 280.63L310.72 283.22L318.13 285.01L325.54 286.20L332.95 286.87L340.36 287.30L347.78 287.56L355.19 287.68" stroke="#B79F00" stroke-width="1.2" fill="none" stroke-linejoin="round"/>
<path d="M214.36 223.37L221.77 224.86L229.18 227.40L236.60 231.16L244.01 236.15L251.42 241.94L258.83 248.36L266.24 255.07L273.66 261.75L281.07 268.13L288.48 273.70L295.89 278.20L303.30 281.54L310.72 283.90L318.13 285.46L325.54 286.46L332.95 287.04L340.36 287.42L347.78 287.62L355.19 287.72" stroke="#00BA38" stroke-width="1.2" fill="none" stroke-linejoin="round"/>
<path d="M214.36 228.75L221.77 230.14L229.18 232.51L236.60 236.04L244.01 240.72L251.42 246.17L258.83 252.20L266.24 258.49L273.66 264.76L281.07 270.69L288.48 275.80L295.89 279.86L303.30 282.69L310.72 284.66L318.13 285.99L325.54 286.80L332.95 287.28L340.36 287.57L347.78 287.69L355.19 287.77" stroke="#00BFC4" stroke-width="1.2" fill="none" stroke-linejoin="round"/>
<path d="M214.36 232.37L221.77 233.68L229.18 235.94L236.60 239.31L244.01 243.77L251.42 248.96L258.83 254.73L266.24 260.71L273.66 266.70L281.07 272.31L288.48 277.11L295.89 280.75L303.30 283.34L310.72 285.13L318.13 286.31L325.54 287.00L332.95 287.40L340.36 287.62L347.78 287.72L355.19 287.79" stroke="#619CFF" stroke-width="1.2" fill="none" stroke-linejoin="round"/>
<path d="M214.36 236.96L221.77 238.18L229.18 240.28L236.60 243.41L244.01 247.56L251.42 252.41L258.83 257.78L266.24 263.35L273.66 268.92L281.07 274.11L288.48 278.42L295.89 281.70L303.30 284.01L310.72 285.60L318.13 286.63L325.54 287.16L332.95 287.50L340.36 287.68L347.78 287.75L355.19 287.81" stroke="#F564E3" stroke-width="1.2" fill="none" stroke-linejoin="round"/>
<rect x="207.45" y="164.50" width="154.25" height="129.15" fill="none" stroke="#cecece" stroke-width="1"/>
</g>
<g>
<path d="M368.40 265.78H522.65M368.40 221.63H522.65M368.40 177.48H522.65M392.75 164.50V293.65M436.35 164.50V293.65M479.95 164.50V293.65" stroke="#f2f2f2" stroke-width="0.6" fill="none"/>
<path d="M368.40 287.85H522.65M368.40 243.70H522.65M368.40 199.55H522.65M370.95 164.50V293.65M414.55 164.50V293.65M458.15 164.50V293.65M501.75 164.50V293.65" stroke="#e8e8e8" stroke-width="0.9" fill="none"/>
<rect x="373.31" y="233.21" width="4.0" height="4.0" fill="#00BA38"/><rect x="380.72" y="234.36" width="4.0" height="4.0" fill="#00BA38"/><rect x="388.13" y="236.29" width="4.0" height="4.0" fill="#00BA38"/><rect x="395.55" y="239.12" width="4.0" height="4.0" fill="#00BA38"/><rect x="402.96" y="242.92" width="4.0" height="4.0" fill="#00BA38"/><rect x="410.37" y="247.34" width="4.0" height="4.0" fill="#00BA38"/><rect x="417.78" y="252.38" width="4.0" height="4.0" fill="#00BA38"/><rect x="425.19" y="257.79" width="4.0" height="4.0" fill="#00BA38"/><rect x="432.61" y="263.21" width="4.0" height="4.0" fill="#00BA38"/><rect x="440.02" y="268.53" width="4.0" height="4.0" fill="#00BA38"/><rect x="447.43" y="273.27" width="4.0" height="4.0" fill="#00BA38"/><rect x="454.84" y="277.19" width="4.0" height="4.0" fill="#00BA38"/><rect x="462.25" y="280.05" width="4.0" height="4.0" fill="#00BA38"/><rect x="469.67" y="282.09" width="4.0" height="4.0" fill="#00BA38"/><rect x="477.08" y="283.51" width="4.0" height="4.0" fill="#00BA38"/><rect x="484.49" y="284.46" width="4.0" height="4.0" fill="#00BA38"/><rect x="491.90" y="285.03" width="4.0" height="4.0" fill="#00BA38"/><rect x="499.31" y="285.39" width="4.0" height="4.0" fill="#00BA38"/><rect x="506.73" y="285.60" width="4.0" height="4.0" fill="#00BA38"/><rect x="514.14" y="285.71" width="4.0" height="4.0" fill="#00BA38"/>
<path d="M373.31 240.27H377.31V244.27H373.31ZM373.31 242.27H377.31M375.31 240.27V244.27" stroke="#619CFF" stroke-width="1.25" fill="none"/><path d="M380.72 241.27H384.72V245.27H380.72ZM380.72 243.27H384.72M382.72 241.27V245.27" stroke="#619CFF" stroke-width="1.25" fill="none"/><path d="M388.13 242.99H392.13V246.99H388.13ZM388.13 244.99H392.13M390.13 242.99V246.99" stroke="#619CFF" stroke-width="1.25" fill="none"/><path d="M395.55 245.52H399.55V249.52H395.55ZM395.55 247.52H399.55M397.55 245.52V249.52" stroke="#619CFF" stroke-width="1.25" fill="none"/><path d="M402.96 248.93H406.96V252.93H402.96ZM402.96 250.93H406.96M404.96 248.93V252.93" stroke="#619CFF" stroke-width="1.25" fill="none"/><path d="M410.37 252.90H414.37V256.90H410.37ZM410.37 254.90H414.37M412.37 252.90V256.90" stroke="#619CFF" stroke-width="1.25" fill="none"/><path d="M417.78 257.42H421.78V261.42H417.78ZM417.78 259.42H421.78M419.78 257.42V261.42" stroke="#619CFF" stroke-width="1.25" fill="none"/><path d="M425.19 262.24H429.19V266.24H425.19ZM425.19 264.24H429.19M427.19 262.24V266.24" stroke="#619CFF" stroke-width="1.25" fill="none"/><path d="M432.61 267.09H436.61V271.09H432.61ZM432.61 269.09H436.61M434.61 267.09V271.09" stroke="#619CFF" stroke-width="1.25" fill="none"/><path d="M440.02 271.78H444.02V275.78H440.02ZM440.02 273.78H444.02M442.02 271.78V275.78" stroke="#619CFF" stroke-width="1.25" fill="none"/><path d="M447.43 275.90H451.43V279.90H447.43ZM447.43 277.90H451.43M449.43 275.90V279.90" stroke="#619CFF" stroke-width="1.25" fill="none"/><path d="M454.84 279.22H458.84V283.22H454.84ZM454.84 281.22H458.84M456.84 279.22V283.22" stroke="#619CFF" stroke-width="1.25" fill="none"/><path d="M462.25 281.58H466.25V285.58H462.25ZM462.25 283.58H466.25M464.25 281.58V285.58" stroke="#619CFF" stroke-width="1.25" fill="none"/><path d="M469.67 283.17H473.67V287.17H469.67ZM469.67 285.17H473.67M471.67 283.17V287.17" stroke="#619CFF" stroke-width="1.25" fill="none"/><path d="M477.08 284.24H481.08V288.24H477.08ZM477.08 286.24H481.08M479.08 284.24V288.24" stroke="#619CFF" stroke-width="1.25" fill="none"/><path d="M484.49 284.92H488.49V288.92H484.49ZM484.49 286.92H488.49M486.49 284.92V288.92" stroke="#619CFF" stroke-width="1.25" fill="none"/><path d="M491.90 285.32H495.90V289.32H491.90ZM491.90 287.32H495.90M493.90 285.32V289.32" stroke="#619CFF" stroke-width="1.25" fill="none"/><path d="M499.31 285.58H503.31V289.58H499.31ZM499.31 287.58H503.31M501.31 285.58V289.58" stroke="#619CFF" stroke-width="1.25" fill="none"/><path d="M506.73 285.71H510.73V289.71H506.73ZM506.73 287.71H510.73M508.73 285.71V289.71" stroke="#619CFF" stroke-width="1.25" fill="none"/><path d="M514.14 285.77H518.14V289.77H514.14ZM514.14 287.77H518.14M516.14 285.77V289.77" stroke="#619CFF" stroke-width="1.25" fill="none"/>
<circle cx="375.31" cy="219.06" r="2.0" fill="#F8766D"/><circle cx="382.72" cy="220.54" r="2.0" fill="#F8766D"/><circle cx="390.13" cy="222.98" r="2.0" fill="#F8766D"/><circle cx="397.55" cy="226.52" r="2.0" fill="#F8766D"/><circle cx="404.96" cy="231.24" r="2.0" fill="#F8766D"/><circle cx="412.37" cy="236.72" r="2.0" fill="#F8766D"/><circle cx="419.78" cy="242.92" r="2.0" fill="#F8766D"/><circle cx="427.19" cy="249.61" r="2.0" fill="#F8766D"/><circle cx="434.61" cy="256.35" r="2.0" fill="#F8766D"/><circle cx="442.02" cy="263.07" r="2.0" fill="#F8766D"/><circle cx="449.43" cy="269.25" r="2.0" fill="#F8766D"/><circle cx="456.84" cy="274.53" r="2.0" fill="#F8766D"/><circle cx="464.25" cy="278.57" r="2.0" fill="#F8766D"/><circle cx="471.67" cy="281.52" r="2.0" fill="#F8766D"/><circle cx="479.08" cy="283.66" r="2.0" fill="#F8766D"/><circle cx="486.49" cy="285.17" r="2.0" fill="#F8766D"/><circle cx="493.90" cy="286.20" r="2.0" fill="#F8766D"/><circle cx="501.31" cy="286.82" r="2.0" fill="#F8766D"/><circle cx="508.73" cy="287.23" r="2.0" fill="#F8766D"/><circle cx="516.14" cy="287.51" r="2.0" fill="#F8766D"/>
<path d="M372.48 246.07H378.14M375.31 243.24V248.89M373.31 244.07L377.31 248.07M373.31 248.07L377.31 244.07" stroke="#F564E3" stroke-width="0.95" fill="none"/><path d="M379.89 247.00H385.55M382.72 244.17V249.82M380.72 245.00L384.72 249.00M380.72 249.00L384.72 245.00" stroke="#F564E3" stroke-width="0.95" fill="none"/><path d="M387.31 248.59H392.96M390.13 245.76V251.42M388.13 246.59L392.13 250.59M388.13 250.59L392.13 246.59" stroke="#F564E3" stroke-width="0.95" fill="none"/><path d="M394.72 250.95H400.37M397.55 248.12V253.78M395.55 248.95L399.55 252.95M395.55 252.95L399.55 248.95" stroke="#F564E3" stroke-width="0.95" fill="none"/><path d="M402.13 254.12H407.79M404.96 251.29V256.95M402.96 252.12L406.96 256.12M402.96 256.12L406.96 252.12" stroke="#F564E3" stroke-width="0.95" fill="none"/><path d="M409.54 257.82H415.20M412.37 255.00V260.65M410.37 255.82L414.37 259.82M410.37 259.82L414.37 255.82" stroke="#F564E3" stroke-width="0.95" fill="none"/><path d="M416.95 262.03H422.61M419.78 259.21V264.86M417.78 260.03L421.78 264.03M417.78 264.03L421.78 260.03" stroke="#F564E3" stroke-width="0.95" fill="none"/><path d="M424.37 266.52H430.02M427.19 263.69V269.35M425.19 264.52L429.19 268.52M425.19 268.52L429.19 264.52" stroke="#F564E3" stroke-width="0.95" fill="none"/><path d="M431.78 271.04H437.43M434.61 268.21V273.87M432.61 269.04L436.61 273.04M432.61 273.04L436.61 269.04" stroke="#F564E3" stroke-width="0.95" fill="none"/><path d="M439.19 275.38H444.85M442.02 272.55V278.20M440.02 273.38L444.02 277.38M440.02 277.38L444.02 273.38" stroke="#F564E3" stroke-width="0.95" fill="none"/><path d="M446.60 279.16H452.26M449.43 276.33V281.99M447.43 277.16L451.43 281.16M447.43 281.16L451.43 277.16" stroke="#F564E3" stroke-width="0.95" fill="none"/><path d="M454.01 282.18H459.67M456.84 279.35V285.01M454.84 280.18L458.84 284.18M454.84 284.18L458.84 280.18" stroke="#F564E3" stroke-width="0.95" fill="none"/><path d="M461.43 284.20H467.08M464.25 281.38V287.03M462.25 282.20L466.25 286.20M462.25 286.20L466.25 282.20" stroke="#F564E3" stroke-width="0.95" fill="none"/><path d="M468.84 285.60H474.49M471.67 282.77V288.42M469.67 283.60L473.67 287.60M469.67 287.60L473.67 283.60" stroke="#F564E3" stroke-width="0.95" fill="none"/><path d="M476.25 286.53H481.91M479.08 283.71V289.36M477.08 284.53L481.08 288.53M477.08 288.53L481.08 284.53" stroke="#F564E3" stroke-width="0.95" fill="none"/><path d="M483.66 287.11H489.32M486.49 284.28V289.94M484.49 285.11L488.49 289.11M484.49 289.11L488.49 285.11" stroke="#F564E3" stroke-width="0.95" fill="none"/><path d="M491.07 287.45H496.73M493.90 284.62V290.28M491.90 285.45L495.90 289.45M491.90 289.45L495.90 285.45" stroke="#F564E3" stroke-width="0.95" fill="none"/><path d="M498.49 287.65H504.14M501.31 284.82V290.48M499.31 285.65L503.31 289.65M499.31 289.65L503.31 285.65" stroke="#F564E3" stroke-width="0.95" fill="none"/><path d="M505.90 287.74H511.55M508.73 284.91V290.57M506.73 285.74L510.73 289.74M506.73 289.74L510.73 285.74" stroke="#F564E3" stroke-width="0.95" fill="none"/><path d="M513.31 287.79H518.97M516.14 284.96V290.62M514.14 285.79L518.14 289.79M514.14 289.79L518.14 285.79" stroke="#F564E3" stroke-width="0.95" fill="none"/>
<path d="M375.31 228.48L378.00 233.15L372.62 233.15Z" fill="#B79F00"/><path d="M382.72 229.70L385.42 234.37L380.03 234.37Z" fill="#B79F00"/><path d="M390.13 231.74L392.83 236.41L387.44 236.41Z" fill="#B79F00"/><path d="M397.55 234.73L400.24 239.39L394.85 239.39Z" fill="#B79F00"/><path d="M404.96 238.72L407.65 243.38L402.26 243.38Z" fill="#B79F00"/><path d="M412.37 243.36L415.06 248.03L409.68 248.03Z" fill="#B79F00"/><path d="M419.78 248.64L422.48 253.30L417.09 253.30Z" fill="#B79F00"/><path d="M427.19 254.33L429.89 258.99L424.50 258.99Z" fill="#B79F00"/><path d="M434.61 260.02L437.30 264.69L431.91 264.69Z" fill="#B79F00"/><path d="M442.02 265.66L444.71 270.32L439.32 270.32Z" fill="#B79F00"/><path d="M449.43 270.72L452.12 275.39L446.74 275.39Z" fill="#B79F00"/><path d="M456.84 274.94L459.54 279.60L454.15 279.60Z" fill="#B79F00"/><path d="M464.25 278.08L466.95 282.74L461.56 282.74Z" fill="#B79F00"/><path d="M471.67 280.33L474.36 285.00L468.97 285.00Z" fill="#B79F00"/><path d="M479.08 281.93L481.77 286.59L476.38 286.59Z" fill="#B79F00"/><path d="M486.49 283.02L489.18 287.69L483.80 287.69Z" fill="#B79F00"/><path d="M493.90 283.71L496.60 288.37L491.21 288.37Z" fill="#B79F00"/><path d="M501.31 284.13L504.01 288.80L498.62 288.80Z" fill="#B79F00"/><path d="M508.73 284.41L511.42 289.07L506.03 289.07Z" fill="#B79F00"/><path d="M516.14 284.55L518.83 289.22L513.44 289.22Z" fill="#B79F00"/>
<path d="M372.48 239.27H378.14M375.31 236.44V242.10" stroke="#00BFC4" stroke-width="1.05" fill="none"/><path d="M379.89 240.34H385.55M382.72 237.51V243.16" stroke="#00BFC4" stroke-width="1.05" fill="none"/><path d="M387.31 242.13H392.96M390.13 239.30V244.96" stroke="#00BFC4" stroke-width="1.05" fill="none"/><path d="M394.72 244.79H400.37M397.55 241.96V247.62" stroke="#00BFC4" stroke-width="1.05" fill="none"/><path d="M402.13 248.36H407.79M404.96 245.53V251.19" stroke="#00BFC4" stroke-width="1.05" fill="none"/><path d="M409.54 252.52H415.20M412.37 249.69V255.35" stroke="#00BFC4" stroke-width="1.05" fill="none"/><path d="M416.95 257.25H422.61M419.78 254.42V260.08" stroke="#00BFC4" stroke-width="1.05" fill="none"/><path d="M424.37 262.32H430.02M427.19 259.49V265.15" stroke="#00BFC4" stroke-width="1.05" fill="none"/><path d="M431.78 267.41H437.43M434.61 264.58V270.23" stroke="#00BFC4" stroke-width="1.05" fill="none"/><path d="M439.19 272.36H444.85M442.02 269.53V275.19" stroke="#00BFC4" stroke-width="1.05" fill="none"/><path d="M446.60 276.74H452.26M449.43 273.92V279.57" stroke="#00BFC4" stroke-width="1.05" fill="none"/><path d="M454.01 280.32H459.67M456.84 277.49V283.15" stroke="#00BFC4" stroke-width="1.05" fill="none"/><path d="M461.43 282.90H467.08M464.25 280.07V285.73" stroke="#00BFC4" stroke-width="1.05" fill="none"/><path d="M468.84 284.71H474.49M471.67 281.88V287.54" stroke="#00BFC4" stroke-width="1.05" fill="none"/><path d="M476.25 285.96H481.91M479.08 283.13V288.78" stroke="#00BFC4" stroke-width="1.05" fill="none"/><path d="M483.66 286.74H489.32M486.49 283.91V289.57" stroke="#00BFC4" stroke-width="1.05" fill="none"/><path d="M491.07 287.20H496.73M493.90 284.37V290.03" stroke="#00BFC4" stroke-width="1.05" fill="none"/><path d="M498.49 287.49H504.14M501.31 284.66V290.32" stroke="#00BFC4" stroke-width="1.05" fill="none"/><path d="M505.90 287.66H511.55M508.73 284.83V290.49" stroke="#00BFC4" stroke-width="1.05" fill="none"/><path d="M513.31 287.74H518.97M516.14 284.91V290.57" stroke="#00BFC4" stroke-width="1.05" fill="none"/>
<path d="M375.31 219.06L382.72 220.54L390.13 222.98L397.55 226.52L404.96 231.24L412.37 236.72L419.78 242.92L427.19 249.61L434.61 256.35L442.02 263.07L449.43 269.25L456.84 274.53L464.25 278.57L471.67 281.52L479.08 283.66L486.49 285.17L493.90 286.20L501.31 286.82L508.73 287.23L516.14 287.51" stroke="#F8766D" stroke-width="1.2" fill="none" stroke-linejoin="round"/>
<path d="M375.31 231.60L382.72 232.81L390.13 234.85L397.55 237.84L404.96 241.83L412.37 246.47L419.78 251.75L427.19 257.44L434.61 263.13L442.02 268.77L449.43 273.83L456.84 278.05L464.25 281.19L471.67 283.44L479.08 285.04L486.49 286.13L493.90 286.82L501.31 287.24L508.73 287.52L516.14 287.66" stroke="#B79F00" stroke-width="1.2" fill="none" stroke-linejoin="round"/>
<path d="M375.31 235.21L382.72 236.36L390.13 238.29L397.55 241.12L404.96 244.92L412.37 249.34L419.78 254.38L427.19 259.79L434.61 265.21L442.02 270.53L449.43 275.27L456.84 279.19L464.25 282.05L471.67 284.09L479.08 285.51L486.49 286.46L493.90 287.03L501.31 287.39L508.73 287.60L516.14 287.71" stroke="#00BA38" stroke-width="1.2" fill="none" stroke-linejoin="round"/>
<path d="M375.31 239.27L382.72 240.34L390.13 242.13L397.55 244.79L404.96 248.36L412.37 252.52L419.78 257.25L427.19 262.32L434.61 267.41L442.02 272.36L449.43 276.74L456.84 280.32L464.25 282.90L471.67 284.71L479.08 285.96L486.49 286.74L493.90 287.20L501.31 287.49L508.73 287.66L516.14 287.74" stroke="#00BFC4" stroke-width="1.2" fill="none" stroke-linejoin="round"/>
<path d="M375.31 242.27L382.72 243.27L390.13 244.99L397.55 247.52L404.96 250.93L412.37 254.90L419.78 259.42L427.19 264.24L434.61 269.09L442.02 273.78L449.43 277.90L456.84 281.22L464.25 283.58L471.67 285.17L479.08 286.24L486.49 286.92L493.90 287.32L501.31 287.58L508.73 287.71L516.14 287.77" stroke="#619CFF" stroke-width="1.2" fill="none" stroke-linejoin="round"/>
<path d="M375.31 246.07L382.72 247.00L390.13 248.59L397.55 250.95L404.96 254.12L412.37 257.82L419.78 262.03L427.19 266.52L434.61 271.04L442.02 275.38L449.43 279.16L456.84 282.18L464.25 284.20L471.67 285.60L479.08 286.53L486.49 287.11L493.90 287.45L501.31 287.65L508.73 287.74L516.14 287.79" stroke="#F564E3" stroke-width="1.2" fill="none" stroke-linejoin="round"/>
<rect x="368.40" y="164.50" width="154.25" height="129.15" fill="none" stroke="#cecece" stroke-width="1"/>
</g>
<g>
<path d="M46.50 401.93H200.75M46.50 357.77H200.75M46.50 313.62H200.75M70.85 300.65V429.80M114.45 300.65V429.80M158.05 300.65V429.80" stroke="#f2f2f2" stroke-width="0.6" fill="none"/>
<path d="M46.50 424.00H200.75M46.50 379.85H200.75M46.50 335.70H200.75M49.05 300.65V429.80M92.65 300.65V429.80M136.25 300.65V429.80M179.85 300.65V429.80" stroke="#e8e8e8" stroke-width="0.9" fill="none"/>
<rect x="51.41" y="367.52" width="4.0" height="4.0" fill="#00BA38"/><rect x="58.82" y="369.26" width="4.0" height="4.0" fill="#00BA38"/><rect x="66.23" y="372.22" width="4.0" height="4.0" fill="#00BA38"/><rect x="73.65" y="376.56" width="4.0" height="4.0" fill="#00BA38"/><rect x="81.06" y="381.92" width="4.0" height="4.0" fill="#00BA38"/><rect x="88.47" y="387.90" width="4.0" height="4.0" fill="#00BA38"/><rect x="95.88" y="393.64" width="4.0" height="4.0" fill="#00BA38"/><rect x="103.29" y="399.12" width="4.0" height="4.0" fill="#00BA38"/><rect x="110.71" y="404.21" width="4.0" height="4.0" fill="#00BA38"/><rect x="118.12" y="408.58" width="4.0" height="4.0" fill="#00BA38"/><rect x="125.53" y="412.14" width="4.0" height="4.0" fill="#00BA38"/><rect x="132.94" y="414.89" width="4.0" height="4.0" fill="#00BA38"/><rect x="140.35" y="416.91" width="4.0" height="4.0" fill="#00BA38"/><rect x="147.77" y="418.32" width="4.0" height="4.0" fill="#00BA38"/><rect x="155.18" y="419.37" width="4.0" height="4.0" fill="#00BA38"/><rect x="162.59" y="420.14" width="4.0" height="4.0" fill="#00BA38"/><rect x="170.00" y="420.73" width="4.0" height="4.0" fill="#00BA38"/><rect x="177.41" y="421.21" width="4.0" height="4.0" fill="#00BA38"/><rect x="184.83" y="421.53" width="4.0" height="4.0" fill="#00BA38"/><rect x="192.24" y="421.74" width="4.0" height="4.0" fill="#00BA38"/>
<path d="M51.41 375.82H55.41V379.82H51.41ZM51.41 377.82H55.41M53.41 375.82V379.82" stroke="#619CFF" stroke-width="1.25" fill="none"/><path d="M58.82 377.52H62.82V381.52H58.82ZM58.82 379.52H62.82M60.82 377.52V381.52" stroke="#619CFF" stroke-width="1.25" fill="none"/><path d="M66.23 380.44H70.23V384.44H66.23ZM66.23 382.44H70.23M68.23 380.44V384.44" stroke="#619CFF" stroke-width="1.25" fill="none"/><path d="M73.65 384.79H77.65V388.79H73.65ZM73.65 386.79H77.65M75.65 384.79V388.79" stroke="#619CFF" stroke-width="1.25" fill="none"/><path d="M81.06 390.07H85.06V394.07H81.06ZM81.06 392.07H85.06M83.06 390.07V394.07" stroke="#619CFF" stroke-width="1.25" fill="none"/><path d="M88.47 395.74H92.47V399.74H88.47ZM88.47 397.74H92.47M90.47 395.74V399.74" stroke="#619CFF" stroke-width="1.25" fill="none"/><path d="M95.88 401.01H99.88V405.01H95.88ZM95.88 403.01H99.88M97.88 401.01V405.01" stroke="#619CFF" stroke-width="1.25" fill="none"/><path d="M103.29 406.00H107.29V410.00H103.29ZM103.29 408.00H107.29M105.29 406.00V410.00" stroke="#619CFF" stroke-width="1.25" fill="none"/><path d="M110.71 410.27H114.71V414.27H110.71ZM110.71 412.27H114.71M112.71 410.27V414.27" stroke="#619CFF" stroke-width="1.25" fill="none"/><path d="M118.12 413.69H122.12V417.69H118.12ZM118.12 415.69H122.12M120.12 413.69V417.69" stroke="#619CFF" stroke-width="1.25" fill="none"/><path d="M125.53 416.25H129.53V420.25H125.53ZM125.53 418.25H129.53M127.53 416.25V420.25" stroke="#619CFF" stroke-width="1.25" fill="none"/><path d="M132.94 418.07H136.94V422.07H132.94ZM132.94 420.07H136.94M134.94 418.07V422.07" stroke="#619CFF" stroke-width="1.25" fill="none"/><path d="M140.35 419.34H144.35V423.34H140.35ZM140.35 421.34H144.35M142.35 419.34V423.34" stroke="#619CFF" stroke-width="1.25" fill="none"/><path d="M147.77 420.24H151.77V424.24H147.77ZM147.77 422.24H151.77M149.77 420.24V424.24" stroke="#619CFF" stroke-width="1.25" fill="none"/><path d="M155.18 420.83H159.18V424.83H155.18ZM155.18 422.83H159.18M157.18 420.83V424.83" stroke="#619CFF" stroke-width="1.25" fill="none"/><path d="M162.59 421.19H166.59V425.19H162.59ZM162.59 423.19H166.59M164.59 421.19V425.19" stroke="#619CFF" stroke-width="1.25" fill="none"/><path d="M170.00 421.46H174.00V425.46H170.00ZM170.00 423.46H174.00M172.00 421.46V425.46" stroke="#619CFF" stroke-width="1.25" fill="none"/><path d="M177.41 421.70H181.41V425.70H177.41ZM177.41 423.70H181.41M179.41 421.70V425.70" stroke="#619CFF" stroke-width="1.25" fill="none"/><path d="M184.83 421.84H188.83V425.84H184.83ZM184.83 423.84H188.83M186.83 421.84V425.84" stroke="#619CFF" stroke-width="1.25" fill="none"/><path d="M192.24 421.90H196.24V425.90H192.24ZM192.24 423.90H196.24M194.24 421.90V425.90" stroke="#619CFF" stroke-width="1.25" fill="none"/>
<circle cx="53.41" cy="349.30" r="2.0" fill="#F8766D"/><circle cx="60.82" cy="351.60" r="2.0" fill="#F8766D"/><circle cx="68.23" cy="355.52" r="2.0" fill="#F8766D"/><circle cx="75.65" cy="361.25" r="2.0" fill="#F8766D"/><circle cx="83.06" cy="368.39" r="2.0" fill="#F8766D"/><circle cx="90.47" cy="376.30" r="2.0" fill="#F8766D"/><circle cx="97.88" cy="384.02" r="2.0" fill="#F8766D"/><circle cx="105.29" cy="391.40" r="2.0" fill="#F8766D"/><circle cx="112.71" cy="398.37" r="2.0" fill="#F8766D"/><circle cx="120.12" cy="404.44" r="2.0" fill="#F8766D"/><circle cx="127.53" cy="409.46" r="2.0" fill="#F8766D"/><circle cx="134.94" cy="413.30" r="2.0" fill="#F8766D"/><circle cx="142.35" cy="416.17" r="2.0" fill="#F8766D"/><circle cx="149.77" cy="418.31" r="2.0" fill="#F8766D"/><circle cx="157.18" cy="419.90" r="2.0" fill="#F8766D"/><circle cx="164.59" cy="421.10" r="2.0" fill="#F8766D"/><circle cx="172.00" cy="421.92" r="2.0" fill="#F8766D"/><circle cx="179.41" cy="422.70" r="2.0" fill="#F8766D"/><circle cx="186.83" cy="423.20" r="2.0" fill="#F8766D"/><circle cx="194.24" cy="423.54" r="2.0" fill="#F8766D"/>
<path d="M50.58 381.35H56.24M53.41 378.52V384.18M51.41 379.35L55.41 383.35M51.41 383.35L55.41 379.35" stroke="#F564E3" stroke-width="0.95" fill="none"/><path d="M57.99 383.04H63.65M60.82 380.21V385.87M58.82 381.04L62.82 385.04M58.82 385.04L62.82 381.04" stroke="#F564E3" stroke-width="0.95" fill="none"/><path d="M65.41 385.95H71.06M68.23 383.12V388.78M66.23 383.95L70.23 387.95M66.23 387.95L70.23 383.95" stroke="#F564E3" stroke-width="0.95" fill="none"/><path d="M72.82 390.37H78.47M75.65 387.54V393.20M73.65 388.37L77.65 392.37M73.65 392.37L77.65 388.37" stroke="#F564E3" stroke-width="0.95" fill="none"/><path d="M80.23 395.57H85.89M83.06 392.74V398.39M81.06 393.57L85.06 397.57M81.06 397.57L85.06 393.57" stroke="#F564E3" stroke-width="0.95" fill="none"/><path d="M87.64 401.10H93.30M90.47 398.27V403.93M88.47 399.10L92.47 403.10M88.47 403.10L92.47 399.10" stroke="#F564E3" stroke-width="0.95" fill="none"/><path d="M95.05 406.16H100.71M97.88 403.34V408.99M95.88 404.16L99.88 408.16M95.88 408.16L99.88 404.16" stroke="#F564E3" stroke-width="0.95" fill="none"/><path d="M102.47 410.82H108.12M105.29 407.99V413.64M103.29 408.82L107.29 412.82M103.29 412.82L107.29 408.82" stroke="#F564E3" stroke-width="0.95" fill="none"/><path d="M109.88 414.68H115.53M112.71 411.85V417.51M110.71 412.68L114.71 416.68M110.71 416.68L114.71 412.68" stroke="#F564E3" stroke-width="0.95" fill="none"/><path d="M117.29 417.65H122.95M120.12 414.82V420.47M118.12 415.65L122.12 419.65M118.12 419.65L122.12 415.65" stroke="#F564E3" stroke-width="0.95" fill="none"/><path d="M124.70 419.75H130.36M127.53 416.92V422.58M125.53 417.75L129.53 421.75M125.53 421.75L129.53 417.75" stroke="#F564E3" stroke-width="0.95" fill="none"/><path d="M132.11 421.19H137.77M134.94 418.37V424.02M132.94 419.19L136.94 423.19M132.94 423.19L136.94 419.19" stroke="#F564E3" stroke-width="0.95" fill="none"/><path d="M139.53 422.17H145.18M142.35 419.34V425.00M140.35 420.17L144.35 424.17M140.35 424.17L144.35 420.17" stroke="#F564E3" stroke-width="0.95" fill="none"/><path d="M146.94 422.82H152.59M149.77 420.00V425.65M147.77 420.82L151.77 424.82M147.77 424.82L151.77 420.82" stroke="#F564E3" stroke-width="0.95" fill="none"/><path d="M154.35 423.23H160.01M157.18 420.40V426.06M155.18 421.23L159.18 425.23M155.18 425.23L159.18 421.23" stroke="#F564E3" stroke-width="0.95" fill="none"/><path d="M161.76 423.49H167.42M164.59 420.66V426.32M162.59 421.49L166.59 425.49M162.59 425.49L166.59 421.49" stroke="#F564E3" stroke-width="0.95" fill="none"/><path d="M169.17 423.68H174.83M172.00 420.85V426.51M170.00 421.68L174.00 425.68M170.00 425.68L174.00 421.68" stroke="#F564E3" stroke-width="0.95" fill="none"/><path d="M176.59 423.83H182.24M179.41 421.00V426.66M177.41 421.83L181.41 425.83M177.41 425.83L181.41 421.83" stroke="#F564E3" stroke-width="0.95" fill="none"/><path d="M184.00 423.90H189.65M186.83 421.07V426.73M184.83 421.90L188.83 425.90M184.83 425.90L188.83 421.90" stroke="#F564E3" stroke-width="0.95" fill="none"/><path d="M191.41 423.95H197.07M194.24 421.12V426.78M192.24 421.95L196.24 425.95M192.24 425.95L196.24 421.95" stroke="#F564E3" stroke-width="0.95" fill="none"/>
<path d="M53.41 362.52L56.10 367.19L50.72 367.19Z" fill="#B79F00"/><path d="M60.82 364.32L63.52 368.99L58.13 368.99Z" fill="#B79F00"/><path d="M68.23 367.39L70.93 372.05L65.54 372.05Z" fill="#B79F00"/><path d="M75.65 371.86L78.34 376.53L72.95 376.53Z" fill="#B79F00"/><path d="M83.06 377.44L85.75 382.10L80.36 382.10Z" fill="#B79F00"/><path d="M90.47 383.62L93.16 388.29L87.78 388.29Z" fill="#B79F00"/><path d="M97.88 389.65L100.58 394.32L95.19 394.32Z" fill="#B79F00"/><path d="M105.29 395.42L107.99 400.08L102.60 400.08Z" fill="#B79F00"/><path d="M112.71 400.86L115.40 405.53L110.01 405.53Z" fill="#B79F00"/><path d="M120.12 405.61L122.81 410.28L117.42 410.28Z" fill="#B79F00"/><path d="M127.53 409.53L130.22 414.19L124.84 414.19Z" fill="#B79F00"/><path d="M134.94 412.53L137.64 417.19L132.25 417.19Z" fill="#B79F00"/><path d="M142.35 414.77L145.05 419.44L139.66 419.44Z" fill="#B79F00"/><path d="M149.77 416.44L152.46 421.11L147.07 421.11Z" fill="#B79F00"/><path d="M157.18 417.69L159.87 422.35L154.48 422.35Z" fill="#B79F00"/><path d="M164.59 418.62L167.28 423.29L161.90 423.29Z" fill="#B79F00"/><path d="M172.00 419.27L174.70 423.93L169.31 423.93Z" fill="#B79F00"/><path d="M179.41 419.87L182.11 424.54L176.72 424.54Z" fill="#B79F00"/><path d="M186.83 420.27L189.52 424.93L184.13 424.93Z" fill="#B79F00"/><path d="M194.24 420.53L196.93 425.19L191.54 425.19Z" fill="#B79F00"/>
<path d="M50.58 375.26H56.24M53.41 372.43V378.09" stroke="#00BFC4" stroke-width="1.05" fill="none"/><path d="M57.99 376.97H63.65M60.82 374.15V379.80" stroke="#00BFC4" stroke-width="1.05" fill="none"/><path d="M65.41 379.91H71.06M68.23 377.09V382.74" stroke="#00BFC4" stroke-width="1.05" fill="none"/><path d="M72.82 384.22H78.47M75.65 381.39V387.05" stroke="#00BFC4" stroke-width="1.05" fill="none"/><path d="M80.23 389.58H85.89M83.06 386.75V392.41" stroke="#00BFC4" stroke-width="1.05" fill="none"/><path d="M87.64 395.35H93.30M90.47 392.52V398.18" stroke="#00BFC4" stroke-width="1.05" fill="none"/><path d="M95.05 400.77H100.71M97.88 397.94V403.60" stroke="#00BFC4" stroke-width="1.05" fill="none"/><path d="M102.47 405.94H108.12M105.29 403.11V408.77" stroke="#00BFC4" stroke-width="1.05" fill="none"/><path d="M109.88 410.52H115.53M112.71 407.69V413.35" stroke="#00BFC4" stroke-width="1.05" fill="none"/><path d="M117.29 414.27H122.95M120.12 411.44V417.10" stroke="#00BFC4" stroke-width="1.05" fill="none"/><path d="M124.70 417.14H130.36M127.53 414.31V419.97" stroke="#00BFC4" stroke-width="1.05" fill="none"/><path d="M132.11 419.20H137.77M134.94 416.38V422.03" stroke="#00BFC4" stroke-width="1.05" fill="none"/><path d="M139.53 420.67H145.18M142.35 417.84V423.50" stroke="#00BFC4" stroke-width="1.05" fill="none"/><path d="M146.94 421.71H152.59M149.77 418.88V424.54" stroke="#00BFC4" stroke-width="1.05" fill="none"/><path d="M154.35 422.44H160.01M157.18 419.61V425.27" stroke="#00BFC4" stroke-width="1.05" fill="none"/><path d="M161.76 422.94H167.42M164.59 420.12V425.77" stroke="#00BFC4" stroke-width="1.05" fill="none"/><path d="M169.17 423.28H174.83M172.00 420.45V426.11" stroke="#00BFC4" stroke-width="1.05" fill="none"/><path d="M176.59 423.58H182.24M179.41 420.76V426.41" stroke="#00BFC4" stroke-width="1.05" fill="none"/><path d="M184.00 423.77H189.65M186.83 420.95V426.60" stroke="#00BFC4" stroke-width="1.05" fill="none"/><path d="M191.41 423.87H197.07M194.24 421.04V426.69" stroke="#00BFC4" stroke-width="1.05" fill="none"/>
<path d="M53.41 349.30L60.82 351.60L68.23 355.52L75.65 361.25L83.06 368.39L90.47 376.30L97.88 384.02L105.29 391.40L112.71 398.37L120.12 404.44L127.53 409.46L134.94 413.30L142.35 416.17L149.77 418.31L157.18 419.90L164.59 421.10L172.00 421.92L179.41 422.70L186.83 423.20L194.24 423.54" stroke="#F8766D" stroke-width="1.2" fill="none" stroke-linejoin="round"/>
<path d="M53.41 365.63L60.82 367.43L68.23 370.50L75.65 374.97L83.06 380.55L90.47 386.73L97.88 392.76L105.29 398.53L112.71 403.97L120.12 408.72L127.53 412.64L134.94 415.64L142.35 417.88L149.77 419.55L157.18 420.80L164.59 421.73L172.00 422.38L179.41 422.98L186.83 423.38L194.24 423.64" stroke="#B79F00" stroke-width="1.2" fill="none" stroke-linejoin="round"/>
<path d="M53.41 369.52L60.82 371.26L68.23 374.22L75.65 378.56L83.06 383.92L90.47 389.90L97.88 395.64L105.29 401.12L112.71 406.21L120.12 410.58L127.53 414.14L134.94 416.89L142.35 418.91L149.77 420.32L157.18 421.37L164.59 422.14L172.00 422.73L179.41 423.21L186.83 423.53L194.24 423.74" stroke="#00BA38" stroke-width="1.2" fill="none" stroke-linejoin="round"/>
<path d="M53.41 375.26L60.82 376.97L68.23 379.91L75.65 384.22L83.06 389.58L90.47 395.35L97.88 400.77L105.29 405.94L112.71 410.52L120.12 414.27L127.53 417.14L134.94 419.20L142.35 420.67L149.77 421.71L157.18 422.44L164.59 422.94L172.00 423.28L179.41 423.58L186.83 423.77L194.24 423.87" stroke="#00BFC4" stroke-width="1.2" fill="none" stroke-linejoin="round"/>
<path d="M53.41 377.82L60.82 379.52L68.23 382.44L75.65 386.79L83.06 392.07L90.47 397.74L97.88 403.01L105.29 408.00L112.71 412.27L120.12 415.69L127.53 418.25L134.94 420.07L142.35 421.34L149.77 422.24L157.18 422.83L164.59 423.19L172.00 423.46L179.41 423.70L186.83 423.84L194.24 423.90" stroke="#619CFF" stroke-width="1.2" fill="none" stroke-linejoin="round"/>
<path d="M53.41 381.35L60.82 383.04L68.23 385.95L75.65 390.37L83.06 395.57L90.47 401.10L97.88 406.16L105.29 410.82L112.71 414.68L120.12 417.65L127.53 419.75L134.94 421.19L142.35 422.17L149.77 422.82L157.18 423.23L164.59 423.49L172.00 423.68L179.41 423.83L186.83 423.90L194.24 423.95" stroke="#F564E3" stroke-width="1.2" fill="none" stroke-linejoin="round"/>
<rect x="46.50" y="300.65" width="154.25" height="129.15" fill="none" stroke="#cecece" stroke-width="1"/>
</g>
<g>
<path d="M207.45 401.93H361.70M207.45 357.77H361.70M207.45 313.62H361.70M231.80 300.65V429.80M275.40 300.65V429.80M319.00 300.65V429.80" stroke="#f2f2f2" stroke-width="0.6" fill="none"/>
<path d="M207.45 424.00H361.70M207.45 379.85H361.70M207.45 335.70H361.70M210.00 300.65V429.80M253.60 300.65V429.80M297.20 300.65V429.80M340.80 300.65V429.80" stroke="#e8e8e8" stroke-width="0.9" fill="none"/>
<rect x="212.36" y="390.83" width="4.0" height="4.0" fill="#00BA38"/><rect x="219.77" y="391.92" width="4.0" height="4.0" fill="#00BA38"/><rect x="227.18" y="393.79" width="4.0" height="4.0" fill="#00BA38"/><rect x="234.60" y="396.53" width="4.0" height="4.0" fill="#00BA38"/><rect x="242.01" y="399.93" width="4.0" height="4.0" fill="#00BA38"/><rect x="249.42" y="403.71" width="4.0" height="4.0" fill="#00BA38"/><rect x="256.83" y="407.35" width="4.0" height="4.0" fill="#00BA38"/><rect x="264.24" y="410.59" width="4.0" height="4.0" fill="#00BA38"/><rect x="271.66" y="413.43" width="4.0" height="4.0" fill="#00BA38"/><rect x="279.07" y="415.74" width="4.0" height="4.0" fill="#00BA38"/><rect x="286.48" y="417.50" width="4.0" height="4.0" fill="#00BA38"/><rect x="293.89" y="418.78" width="4.0" height="4.0" fill="#00BA38"/><rect x="301.30" y="419.70" width="4.0" height="4.0" fill="#00BA38"/><rect x="308.72" y="420.37" width="4.0" height="4.0" fill="#00BA38"/><rect x="316.13" y="420.85" width="4.0" height="4.0" fill="#00BA38"/><rect x="323.54" y="421.19" width="4.0" height="4.0" fill="#00BA38"/><rect x="330.95" y="421.40" width="4.0" height="4.0" fill="#00BA38"/><rect x="338.36" y="421.63" width="4.0" height="4.0" fill="#00BA38"/><rect x="345.78" y="421.79" width="4.0" height="4.0" fill="#00BA38"/><rect x="353.19" y="421.88" width="4.0" height="4.0" fill="#00BA38"/>
<path d="M212.36 396.39H216.36V400.39H212.36ZM212.36 398.39H216.36M214.36 396.39V400.39" stroke="#619CFF" stroke-width="1.25" fill="none"/><path d="M219.77 397.43H223.77V401.43H219.77ZM219.77 399.43H223.77M221.77 397.43V401.43" stroke="#619CFF" stroke-width="1.25" fill="none"/><path d="M227.18 399.25H231.18V403.25H227.18ZM227.18 401.25H231.18M229.18 399.25V403.25" stroke="#619CFF" stroke-width="1.25" fill="none"/><path d="M234.60 401.97H238.60V405.97H234.60ZM234.60 403.97H238.60M236.60 401.97V405.97" stroke="#619CFF" stroke-width="1.25" fill="none"/><path d="M242.01 405.17H246.01V409.17H242.01ZM242.01 407.17H246.01M244.01 405.17V409.17" stroke="#619CFF" stroke-width="1.25" fill="none"/><path d="M249.42 408.65H253.42V412.65H249.42ZM249.42 410.65H253.42M251.42 408.65V412.65" stroke="#619CFF" stroke-width="1.25" fill="none"/><path d="M256.83 411.90H260.83V415.90H256.83ZM256.83 413.90H260.83M258.83 411.90V415.90" stroke="#619CFF" stroke-width="1.25" fill="none"/><path d="M264.24 414.64H268.24V418.64H264.24ZM264.24 416.64H268.24M266.24 414.64V418.64" stroke="#619CFF" stroke-width="1.25" fill="none"/><path d="M271.66 416.86H275.66V420.86H271.66ZM271.66 418.86H275.66M273.66 416.86V420.86" stroke="#619CFF" stroke-width="1.25" fill="none"/><path d="M279.07 418.52H283.07V422.52H279.07ZM279.07 420.52H283.07M281.07 418.52V422.52" stroke="#619CFF" stroke-width="1.25" fill="none"/><path d="M286.48 419.66H290.48V423.66H286.48ZM286.48 421.66H290.48M288.48 419.66V423.66" stroke="#619CFF" stroke-width="1.25" fill="none"/><path d="M293.89 420.44H297.89V424.44H293.89ZM293.89 422.44H297.89M295.89 420.44V424.44" stroke="#619CFF" stroke-width="1.25" fill="none"/><path d="M301.30 420.97H305.30V424.97H301.30ZM301.30 422.97H305.30M303.30 420.97V424.97" stroke="#619CFF" stroke-width="1.25" fill="none"/><path d="M308.72 421.32H312.72V425.32H308.72ZM308.72 423.32H312.72M310.72 421.32V425.32" stroke="#619CFF" stroke-width="1.25" fill="none"/><path d="M316.13 421.53H320.13V425.53H316.13ZM316.13 423.53H320.13M318.13 421.53V425.53" stroke="#619CFF" stroke-width="1.25" fill="none"/><path d="M323.54 421.68H327.54V425.68H323.54ZM323.54 423.68H327.54M325.54 421.68V425.68" stroke="#619CFF" stroke-width="1.25" fill="none"/><path d="M330.95 421.78H334.95V425.78H330.95ZM330.95 423.78H334.95M332.95 421.78V425.78" stroke="#619CFF" stroke-width="1.25" fill="none"/><path d="M338.36 421.88H342.36V425.88H338.36ZM338.36 423.88H342.36M340.36 421.88V425.88" stroke="#619CFF" stroke-width="1.25" fill="none"/><path d="M345.78 421.93H349.78V425.93H345.78ZM345.78 423.93H349.78M347.78 421.93V425.93" stroke="#619CFF" stroke-width="1.25" fill="none"/><path d="M353.19 421.96H357.19V425.96H353.19ZM353.19 423.96H357.19M355.19 421.96V425.96" stroke="#619CFF" stroke-width="1.25" fill="none"/>
<circle cx="214.36" cy="374.82" r="2.0" fill="#F8766D"/><circle cx="221.77" cy="376.40" r="2.0" fill="#F8766D"/><circle cx="229.18" cy="379.10" r="2.0" fill="#F8766D"/><circle cx="236.60" cy="383.05" r="2.0" fill="#F8766D"/><circle cx="244.01" cy="387.94" r="2.0" fill="#F8766D"/><circle cx="251.42" cy="393.53" r="2.0" fill="#F8766D"/><circle cx="258.83" cy="399.01" r="2.0" fill="#F8766D"/><circle cx="266.24" cy="403.90" r="2.0" fill="#F8766D"/><circle cx="273.66" cy="408.37" r="2.0" fill="#F8766D"/><circle cx="281.07" cy="412.16" r="2.0" fill="#F8766D"/><circle cx="288.48" cy="415.21" r="2.0" fill="#F8766D"/><circle cx="295.89" cy="417.58" r="2.0" fill="#F8766D"/><circle cx="303.30" cy="419.30" r="2.0" fill="#F8766D"/><circle cx="310.72" cy="420.51" r="2.0" fill="#F8766D"/><circle cx="318.13" cy="421.43" r="2.0" fill="#F8766D"/><circle cx="325.54" cy="422.14" r="2.0" fill="#F8766D"/><circle cx="332.95" cy="422.60" r="2.0" fill="#F8766D"/><circle cx="340.36" cy="423.10" r="2.0" fill="#F8766D"/><circle cx="347.78" cy="423.45" r="2.0" fill="#F8766D"/><circle cx="355.19" cy="423.68" r="2.0" fill="#F8766D"/>
<path d="M211.53 400.51H217.19M214.36 397.68V403.34M212.36 398.51L216.36 402.51M212.36 402.51L216.36 398.51" stroke="#F564E3" stroke-width="0.95" fill="none"/><path d="M218.94 401.53H224.60M221.77 398.71V404.36M219.77 399.53L223.77 403.53M219.77 403.53L223.77 399.53" stroke="#F564E3" stroke-width="0.95" fill="none"/><path d="M226.36 403.38H232.01M229.18 400.55V406.21M227.18 401.38L231.18 405.38M227.18 405.38L231.18 401.38" stroke="#F564E3" stroke-width="0.95" fill="none"/><path d="M233.77 406.05H239.42M236.60 403.22V408.87M234.60 404.05L238.60 408.05M234.60 408.05L238.60 404.05" stroke="#F564E3" stroke-width="0.95" fill="none"/><path d="M241.18 409.17H246.84M244.01 406.34V412.00M242.01 407.17L246.01 411.17M242.01 411.17L246.01 407.17" stroke="#F564E3" stroke-width="0.95" fill="none"/><path d="M248.59 412.51H254.25M251.42 409.69V415.34M249.42 410.51L253.42 414.51M249.42 414.51L253.42 410.51" stroke="#F564E3" stroke-width="0.95" fill="none"/><path d="M256.00 415.62H261.66M258.83 412.79V418.45M256.83 413.62L260.83 417.62M256.83 417.62L260.83 413.62" stroke="#F564E3" stroke-width="0.95" fill="none"/><path d="M263.42 418.09H269.07M266.24 415.26V420.92M264.24 416.09L268.24 420.09M264.24 420.09L268.24 416.09" stroke="#F564E3" stroke-width="0.95" fill="none"/><path d="M270.83 420.00H276.48M273.66 417.17V422.83M271.66 418.00L275.66 422.00M271.66 422.00L275.66 418.00" stroke="#F564E3" stroke-width="0.95" fill="none"/><path d="M278.24 421.36H283.90M281.07 418.53V424.19M279.07 419.36L283.07 423.36M279.07 423.36L283.07 419.36" stroke="#F564E3" stroke-width="0.95" fill="none"/><path d="M285.65 422.28H291.31M288.48 419.46V425.11M286.48 420.28L290.48 424.28M286.48 424.28L290.48 420.28" stroke="#F564E3" stroke-width="0.95" fill="none"/><path d="M293.06 422.90H298.72M295.89 420.07V425.73M293.89 420.90L297.89 424.90M293.89 424.90L297.89 420.90" stroke="#F564E3" stroke-width="0.95" fill="none"/><path d="M300.48 423.30H306.13M303.30 420.47V426.13M301.30 421.30L305.30 425.30M301.30 425.30L305.30 421.30" stroke="#F564E3" stroke-width="0.95" fill="none"/><path d="M307.89 423.55H313.54M310.72 420.72V426.38M308.72 421.55L312.72 425.55M308.72 425.55L312.72 421.55" stroke="#F564E3" stroke-width="0.95" fill="none"/><path d="M315.30 423.70H320.96M318.13 420.87V426.53M316.13 421.70L320.13 425.70M316.13 425.70L320.13 421.70" stroke="#F564E3" stroke-width="0.95" fill="none"/><path d="M322.71 423.81H328.37M325.54 420.98V426.64M323.54 421.81L327.54 425.81M323.54 425.81L327.54 421.81" stroke="#F564E3" stroke-width="0.95" fill="none"/><path d="M330.12 423.88H335.78M332.95 421.05V426.71M330.95 421.88L334.95 425.88M330.95 425.88L334.95 421.88" stroke="#F564E3" stroke-width="0.95" fill="none"/><path d="M337.54 423.93H343.19M340.36 421.10V426.76M338.36 421.93L342.36 425.93M338.36 425.93L342.36 421.93" stroke="#F564E3" stroke-width="0.95" fill="none"/><path d="M344.95 423.96H350.60M347.78 421.13V426.79M345.78 421.96L349.78 425.96M345.78 425.96L349.78 421.96" stroke="#F564E3" stroke-width="0.95" fill="none"/><path d="M352.36 423.98H358.02M355.19 421.15V426.81M353.19 421.98L357.19 425.98M353.19 425.98L357.19 421.98" stroke="#F564E3" stroke-width="0.95" fill="none"/>
<path d="M214.36 386.45L217.05 391.12L211.67 391.12Z" fill="#B79F00"/><path d="M221.77 387.62L224.47 392.28L219.08 392.28Z" fill="#B79F00"/><path d="M229.18 389.62L231.88 394.28L226.49 394.28Z" fill="#B79F00"/><path d="M236.60 392.53L239.29 397.20L233.90 397.20Z" fill="#B79F00"/><path d="M244.01 396.16L246.70 400.83L241.31 400.83Z" fill="#B79F00"/><path d="M251.42 400.23L254.11 404.90L248.73 404.90Z" fill="#B79F00"/><path d="M258.83 404.18L261.53 408.84L256.14 408.84Z" fill="#B79F00"/><path d="M266.24 407.70L268.94 412.36L263.55 412.36Z" fill="#B79F00"/><path d="M273.66 410.83L276.35 415.50L270.96 415.50Z" fill="#B79F00"/><path d="M281.07 413.42L283.76 418.09L278.37 418.09Z" fill="#B79F00"/><path d="M288.48 415.45L291.17 420.11L285.79 420.11Z" fill="#B79F00"/><path d="M295.89 416.96L298.59 421.62L293.20 421.62Z" fill="#B79F00"/><path d="M303.30 418.06L306.00 422.73L300.61 422.73Z" fill="#B79F00"/><path d="M310.72 418.87L313.41 423.54L308.02 423.54Z" fill="#B79F00"/><path d="M318.13 419.43L320.82 424.10L315.43 424.10Z" fill="#B79F00"/><path d="M325.54 419.83L328.23 424.49L322.85 424.49Z" fill="#B79F00"/><path d="M332.95 420.12L335.65 424.79L330.26 424.79Z" fill="#B79F00"/><path d="M340.36 420.41L343.06 425.07L337.67 425.07Z" fill="#B79F00"/><path d="M347.78 420.60L350.47 425.27L345.08 425.27Z" fill="#B79F00"/><path d="M355.19 420.73L357.88 425.40L352.49 425.40Z" fill="#B79F00"/>
<path d="M211.53 396.89H217.19M214.36 394.06V399.72" stroke="#00BFC4" stroke-width="1.05" fill="none"/><path d="M218.94 397.95H224.60M221.77 395.12V400.78" stroke="#00BFC4" stroke-width="1.05" fill="none"/><path d="M226.36 399.76H232.01M229.18 396.94V402.59" stroke="#00BFC4" stroke-width="1.05" fill="none"/><path d="M233.77 402.51H239.42M236.60 399.68V405.34" stroke="#00BFC4" stroke-width="1.05" fill="none"/><path d="M241.18 405.77H246.84M244.01 402.94V408.60" stroke="#00BFC4" stroke-width="1.05" fill="none"/><path d="M248.59 409.33H254.25M251.42 406.51V412.16" stroke="#00BFC4" stroke-width="1.05" fill="none"/><path d="M256.00 412.69H261.66M258.83 409.86V415.52" stroke="#00BFC4" stroke-width="1.05" fill="none"/><path d="M263.42 415.58H269.07M266.24 412.75V418.41" stroke="#00BFC4" stroke-width="1.05" fill="none"/><path d="M270.83 417.96H276.48M273.66 415.14V420.79" stroke="#00BFC4" stroke-width="1.05" fill="none"/><path d="M278.24 419.80H283.90M281.07 416.97V422.63" stroke="#00BFC4" stroke-width="1.05" fill="none"/><path d="M285.65 421.12H291.31M288.48 418.29V423.95" stroke="#00BFC4" stroke-width="1.05" fill="none"/><path d="M293.06 422.03H298.72M295.89 419.20V424.86" stroke="#00BFC4" stroke-width="1.05" fill="none"/><path d="M300.48 422.66H306.13M303.30 419.84V425.49" stroke="#00BFC4" stroke-width="1.05" fill="none"/><path d="M307.89 423.10H313.54M310.72 420.27V425.93" stroke="#00BFC4" stroke-width="1.05" fill="none"/><path d="M315.30 423.40H320.96M318.13 420.57V426.23" stroke="#00BFC4" stroke-width="1.05" fill="none"/><path d="M322.71 423.58H328.37M325.54 420.75V426.41" stroke="#00BFC4" stroke-width="1.05" fill="none"/><path d="M330.12 423.70H335.78M332.95 420.87V426.53" stroke="#00BFC4" stroke-width="1.05" fill="none"/><path d="M337.54 423.83H343.19M340.36 421.00V426.66" stroke="#00BFC4" stroke-width="1.05" fill="none"/><path d="M344.95 423.91H350.60M347.78 421.08V426.74" stroke="#00BFC4" stroke-width="1.05" fill="none"/><path d="M352.36 423.94H358.02M355.19 421.11V426.77" stroke="#00BFC4" stroke-width="1.05" fill="none"/>
<path d="M214.36 374.82L221.77 376.40L229.18 379.10L236.60 383.05L244.01 387.94L251.42 393.53L258.83 399.01L266.24 403.90L273.66 408.37L281.07 412.16L288.48 415.21L295.89 417.58L303.30 419.30L310.72 420.51L318.13 421.43L325.54 422.14L332.95 422.60L340.36 423.10L347.78 423.45L355.19 423.68" stroke="#F8766D" stroke-width="1.2" fill="none" stroke-linejoin="round"/>
<path d="M214.36 389.56L221.77 390.73L229.18 392.73L236.60 395.64L244.01 399.27L251.42 403.34L258.83 407.29L266.24 410.81L273.66 413.94L281.07 416.53L288.48 418.56L295.89 420.07L303.30 421.17L310.72 421.98L318.13 422.54L325.54 422.94L332.95 423.23L340.36 423.52L347.78 423.71L355.19 423.84" stroke="#B79F00" stroke-width="1.2" fill="none" stroke-linejoin="round"/>
<path d="M214.36 392.83L221.77 393.92L229.18 395.79L236.60 398.53L244.01 401.93L251.42 405.71L258.83 409.35L266.24 412.59L273.66 415.43L281.07 417.74L288.48 419.50L295.89 420.78L303.30 421.70L310.72 422.37L318.13 422.85L325.54 423.19L332.95 423.40L340.36 423.63L347.78 423.79L355.19 423.88" stroke="#00BA38" stroke-width="1.2" fill="none" stroke-linejoin="round"/>
<path d="M214.36 396.89L221.77 397.95L229.18 399.76L236.60 402.51L244.01 405.77L251.42 409.33L258.83 412.69L266.24 415.58L273.66 417.96L281.07 419.80L288.48 421.12L295.89 422.03L303.30 422.66L310.72 423.10L318.13 423.40L325.54 423.58L332.95 423.70L340.36 423.83L347.78 423.91L355.19 423.94" stroke="#00BFC4" stroke-width="1.2" fill="none" stroke-linejoin="round"/>
<path d="M214.36 398.39L221.77 399.43L229.18 401.25L236.60 403.97L244.01 407.17L251.42 410.65L258.83 413.90L266.24 416.64L273.66 418.86L281.07 420.52L288.48 421.66L295.89 422.44L303.30 422.97L310.72 423.32L318.13 423.53L325.54 423.68L332.95 423.78L340.36 423.88L347.78 423.93L355.19 423.96" stroke="#619CFF" stroke-width="1.2" fill="none" stroke-linejoin="round"/>
<path d="M214.36 400.51L221.77 401.53L229.18 403.38L236.60 406.05L244.01 409.17L251.42 412.51L258.83 415.62L266.24 418.09L273.66 420.00L281.07 421.36L288.48 422.28L295.89 422.90L303.30 423.30L310.72 423.55L318.13 423.70L325.54 423.81L332.95 423.88L340.36 423.93L347.78 423.96L355.19 423.98" stroke="#F564E3" stroke-width="1.2" fill="none" stroke-linejoin="round"/>
<rect x="207.45" y="300.65" width="154.25" height="129.15" fill="none" stroke="#cecece" stroke-width="1"/>
</g>
<g>
<path d="M368.40 401.93H522.65M368.40 357.77H522.65M368.40 313.62H522.65M392.75 300.65V429.80M436.35 300.65V429.80M479.95 300.65V429.80" stroke="#f2f2f2" stroke-width="0.6" fill="none"/>
<path d="M368.40 424.00H522.65M368.40 379.85H522.65M368.40 335.70H522.65M370.95 300.65V429.80M414.55 300.65V429.80M458.15 300.65V429.80M501.75 300.65V429.80" stroke="#e8e8e8" stroke-width="0.9" fill="none"/>
<rect x="373.31" y="416.70" width="4.0" height="4.0" fill="#00BA38"/><rect x="380.72" y="416.91" width="4.0" height="4.0" fill="#00BA38"/><rect x="388.13" y="417.26" width="4.0" height="4.0" fill="#00BA38"/><rect x="395.55" y="417.79" width="4.0" height="4.0" fill="#00BA38"/><rect x="402.96" y="418.42" width="4.0" height="4.0" fill="#00BA38"/><rect x="410.37" y="419.10" width="4.0" height="4.0" fill="#00BA38"/><rect x="417.78" y="419.77" width="4.0" height="4.0" fill="#00BA38"/><rect x="425.19" y="420.27" width="4.0" height="4.0" fill="#00BA38"/><rect x="432.61" y="420.68" width="4.0" height="4.0" fill="#00BA38"/><rect x="440.02" y="420.98" width="4.0" height="4.0" fill="#00BA38"/><rect x="447.43" y="421.20" width="4.0" height="4.0" fill="#00BA38"/><rect x="454.84" y="421.35" width="4.0" height="4.0" fill="#00BA38"/><rect x="462.25" y="421.46" width="4.0" height="4.0" fill="#00BA38"/><rect x="469.67" y="421.53" width="4.0" height="4.0" fill="#00BA38"/><rect x="477.08" y="421.58" width="4.0" height="4.0" fill="#00BA38"/><rect x="484.49" y="421.62" width="4.0" height="4.0" fill="#00BA38"/><rect x="491.90" y="421.66" width="4.0" height="4.0" fill="#00BA38"/><rect x="499.31" y="421.69" width="4.0" height="4.0" fill="#00BA38"/><rect x="506.73" y="421.71" width="4.0" height="4.0" fill="#00BA38"/><rect x="514.14" y="421.72" width="4.0" height="4.0" fill="#00BA38"/>
<path d="M373.31 419.62H377.31V423.62H373.31ZM373.31 421.62H377.31M375.31 419.62V423.62" stroke="#619CFF" stroke-width="1.25" fill="none"/><path d="M380.72 419.78H384.72V423.78H380.72ZM380.72 421.78H384.72M382.72 419.78V423.78" stroke="#619CFF" stroke-width="1.25" fill="none"/><path d="M388.13 420.07H392.13V424.07H388.13ZM388.13 422.07H392.13M390.13 420.07V424.07" stroke="#619CFF" stroke-width="1.25" fill="none"/><path d="M395.55 420.48H399.55V424.48H395.55ZM395.55 422.48H399.55M397.55 420.48V424.48" stroke="#619CFF" stroke-width="1.25" fill="none"/><path d="M402.96 420.97H406.96V424.97H402.96ZM402.96 422.97H406.96M404.96 420.97V424.97" stroke="#619CFF" stroke-width="1.25" fill="none"/><path d="M410.37 421.49H414.37V425.49H410.37ZM410.37 423.49H414.37M412.37 421.49V425.49" stroke="#619CFF" stroke-width="1.25" fill="none"/><path d="M417.78 421.98H421.78V425.98H417.78ZM417.78 423.98H421.78M419.78 421.98V425.98" stroke="#619CFF" stroke-width="1.25" fill="none"/><path d="M425.19 422.32H429.19V426.32H425.19ZM425.19 424.32H429.19M427.19 422.32V426.32" stroke="#619CFF" stroke-width="1.25" fill="none"/><path d="M432.61 422.58H436.61V426.58H432.61ZM432.61 424.58H436.61M434.61 422.58V426.58" stroke="#619CFF" stroke-width="1.25" fill="none"/><path d="M440.02 422.77H444.02V426.77H440.02ZM440.02 424.77H444.02M442.02 422.77V426.77" stroke="#619CFF" stroke-width="1.25" fill="none"/><path d="M447.43 422.89H451.43V426.89H447.43ZM447.43 424.89H451.43M449.43 422.89V426.89" stroke="#619CFF" stroke-width="1.25" fill="none"/><path d="M454.84 422.97H458.84V426.97H454.84ZM454.84 424.97H458.84M456.84 422.97V426.97" stroke="#619CFF" stroke-width="1.25" fill="none"/><path d="M462.25 423.03H466.25V427.03H462.25ZM462.25 425.03H466.25M464.25 423.03V427.03" stroke="#619CFF" stroke-width="1.25" fill="none"/><path d="M469.67 423.06H473.67V427.06H469.67ZM469.67 425.06H473.67M471.67 423.06V427.06" stroke="#619CFF" stroke-width="1.25" fill="none"/><path d="M477.08 423.09H481.08V427.09H477.08ZM477.08 425.09H481.08M479.08 423.09V427.09" stroke="#619CFF" stroke-width="1.25" fill="none"/><path d="M484.49 423.10H488.49V427.10H484.49ZM484.49 425.10H488.49M486.49 423.10V427.10" stroke="#619CFF" stroke-width="1.25" fill="none"/><path d="M491.90 423.12H495.90V427.12H491.90ZM491.90 425.12H495.90M493.90 423.12V427.12" stroke="#619CFF" stroke-width="1.25" fill="none"/><path d="M499.31 423.13H503.31V427.13H499.31ZM499.31 425.13H503.31M501.31 423.13V427.13" stroke="#619CFF" stroke-width="1.25" fill="none"/><path d="M506.73 423.14H510.73V427.14H506.73ZM506.73 425.14H510.73M508.73 423.14V427.14" stroke="#619CFF" stroke-width="1.25" fill="none"/><path d="M514.14 423.14H518.14V427.14H514.14ZM514.14 425.14H518.14M516.14 423.14V427.14" stroke="#619CFF" stroke-width="1.25" fill="none"/>
<circle cx="375.31" cy="403.51" r="2.0" fill="#F8766D"/><circle cx="382.72" cy="404.22" r="2.0" fill="#F8766D"/><circle cx="390.13" cy="405.43" r="2.0" fill="#F8766D"/><circle cx="397.55" cy="407.20" r="2.0" fill="#F8766D"/><circle cx="404.96" cy="409.40" r="2.0" fill="#F8766D"/><circle cx="412.37" cy="411.86" r="2.0" fill="#F8766D"/><circle cx="419.78" cy="414.32" r="2.0" fill="#F8766D"/><circle cx="427.19" cy="416.32" r="2.0" fill="#F8766D"/><circle cx="434.61" cy="418.04" r="2.0" fill="#F8766D"/><circle cx="442.02" cy="419.45" r="2.0" fill="#F8766D"/><circle cx="449.43" cy="420.55" r="2.0" fill="#F8766D"/><circle cx="456.84" cy="421.39" r="2.0" fill="#F8766D"/><circle cx="464.25" cy="422.00" r="2.0" fill="#F8766D"/><circle cx="471.67" cy="422.43" r="2.0" fill="#F8766D"/><circle cx="479.08" cy="422.78" r="2.0" fill="#F8766D"/><circle cx="486.49" cy="423.00" r="2.0" fill="#F8766D"/><circle cx="493.90" cy="423.31" r="2.0" fill="#F8766D"/><circle cx="501.31" cy="423.57" r="2.0" fill="#F8766D"/><circle cx="508.73" cy="423.73" r="2.0" fill="#F8766D"/><circle cx="516.14" cy="423.84" r="2.0" fill="#F8766D"/>
<path d="M372.48 419.76H378.14M375.31 416.93V422.59M373.31 417.76L377.31 421.76M373.31 421.76L377.31 417.76" stroke="#F564E3" stroke-width="0.95" fill="none"/><path d="M379.89 419.83H385.55M382.72 417.00V422.66M380.72 417.83L384.72 421.83M380.72 421.83L384.72 417.83" stroke="#F564E3" stroke-width="0.95" fill="none"/><path d="M387.31 419.93H392.96M390.13 417.10V422.75M388.13 417.93L392.13 421.93M388.13 421.93L392.13 417.93" stroke="#F564E3" stroke-width="0.95" fill="none"/><path d="M394.72 420.06H400.37M397.55 417.23V422.89M395.55 418.06L399.55 422.06M395.55 422.06L399.55 418.06" stroke="#F564E3" stroke-width="0.95" fill="none"/><path d="M402.13 420.23H407.79M404.96 417.40V423.06M402.96 418.23L406.96 422.23M402.96 422.23L406.96 418.23" stroke="#F564E3" stroke-width="0.95" fill="none"/><path d="M409.54 420.46H415.20M412.37 417.63V423.28M410.37 418.46L414.37 422.46M410.37 422.46L414.37 418.46" stroke="#F564E3" stroke-width="0.95" fill="none"/><path d="M416.95 420.70H422.61M419.78 417.87V423.53M417.78 418.70L421.78 422.70M417.78 422.70L421.78 418.70" stroke="#F564E3" stroke-width="0.95" fill="none"/><path d="M424.37 420.92H430.02M427.19 418.09V423.75M425.19 418.92L429.19 422.92M425.19 422.92L429.19 418.92" stroke="#F564E3" stroke-width="0.95" fill="none"/><path d="M431.78 421.13H437.43M434.61 418.31V423.96M432.61 419.13L436.61 423.13M432.61 423.13L436.61 419.13" stroke="#F564E3" stroke-width="0.95" fill="none"/><path d="M439.19 421.34H444.85M442.02 418.51V424.17M440.02 419.34L444.02 423.34M440.02 423.34L444.02 419.34" stroke="#F564E3" stroke-width="0.95" fill="none"/><path d="M446.60 421.54H452.26M449.43 418.71V424.36M447.43 419.54L451.43 423.54M447.43 423.54L451.43 419.54" stroke="#F564E3" stroke-width="0.95" fill="none"/><path d="M454.01 421.71H459.67M456.84 418.89V424.54M454.84 419.71L458.84 423.71M454.84 423.71L458.84 419.71" stroke="#F564E3" stroke-width="0.95" fill="none"/><path d="M461.43 421.88H467.08M464.25 419.05V424.70M462.25 419.88L466.25 423.88M462.25 423.88L466.25 419.88" stroke="#F564E3" stroke-width="0.95" fill="none"/><path d="M468.84 422.02H474.49M471.67 419.19V424.85M469.67 420.02L473.67 424.02M469.67 424.02L473.67 420.02" stroke="#F564E3" stroke-width="0.95" fill="none"/><path d="M476.25 422.15H481.91M479.08 419.32V424.98M477.08 420.15L481.08 424.15M477.08 424.15L481.08 420.15" stroke="#F564E3" stroke-width="0.95" fill="none"/><path d="M483.66 422.27H489.32M486.49 419.44V425.09M484.49 420.27L488.49 424.27M484.49 424.27L488.49 420.27" stroke="#F564E3" stroke-width="0.95" fill="none"/><path d="M491.07 422.44H496.73M493.90 419.61V425.27M491.90 420.44L495.90 424.44M491.90 424.44L495.90 420.44" stroke="#F564E3" stroke-width="0.95" fill="none"/><path d="M498.49 422.64H504.14M501.31 419.81V425.47M499.31 420.64L503.31 424.64M499.31 424.64L503.31 420.64" stroke="#F564E3" stroke-width="0.95" fill="none"/><path d="M505.90 422.81H511.55M508.73 419.98V425.64M506.73 420.81L510.73 424.81M506.73 424.81L510.73 420.81" stroke="#F564E3" stroke-width="0.95" fill="none"/><path d="M513.31 422.96H518.97M516.14 420.13V425.79M514.14 420.96L518.14 424.96M514.14 424.96L518.14 420.96" stroke="#F564E3" stroke-width="0.95" fill="none"/>
<path d="M375.31 413.30L378.00 417.96L372.62 417.96Z" fill="#B79F00"/><path d="M382.72 413.61L385.42 418.28L380.03 418.28Z" fill="#B79F00"/><path d="M390.13 414.17L392.83 418.84L387.44 418.84Z" fill="#B79F00"/><path d="M397.55 414.99L400.24 419.66L394.85 419.66Z" fill="#B79F00"/><path d="M404.96 415.95L407.65 420.62L402.26 420.62Z" fill="#B79F00"/><path d="M412.37 416.99L415.06 421.65L409.68 421.65Z" fill="#B79F00"/><path d="M419.78 417.99L422.48 422.65L417.09 422.65Z" fill="#B79F00"/><path d="M427.19 418.72L429.89 423.38L424.50 423.38Z" fill="#B79F00"/><path d="M434.61 419.28L437.30 423.95L431.91 423.95Z" fill="#B79F00"/><path d="M442.02 419.69L444.71 424.36L439.32 424.36Z" fill="#B79F00"/><path d="M449.43 419.98L452.12 424.64L446.74 424.64Z" fill="#B79F00"/><path d="M456.84 420.18L459.54 424.84L454.15 424.84Z" fill="#B79F00"/><path d="M464.25 420.30L466.95 424.97L461.56 424.97Z" fill="#B79F00"/><path d="M471.67 420.39L474.36 425.06L468.97 425.06Z" fill="#B79F00"/><path d="M479.08 420.46L481.77 425.12L476.38 425.12Z" fill="#B79F00"/><path d="M486.49 420.50L489.18 425.16L483.80 425.16Z" fill="#B79F00"/><path d="M493.90 420.54L496.60 425.21L491.21 425.21Z" fill="#B79F00"/><path d="M501.31 420.58L504.01 425.25L498.62 425.25Z" fill="#B79F00"/><path d="M508.73 420.60L511.42 425.27L506.03 425.27Z" fill="#B79F00"/><path d="M516.14 420.61L518.83 425.28L513.44 425.28Z" fill="#B79F00"/>
<path d="M372.48 421.44H378.14M375.31 418.61V424.27" stroke="#00BFC4" stroke-width="1.05" fill="none"/><path d="M379.89 421.60H385.55M382.72 418.77V424.43" stroke="#00BFC4" stroke-width="1.05" fill="none"/><path d="M387.31 421.90H392.96M390.13 419.08V424.73" stroke="#00BFC4" stroke-width="1.05" fill="none"/><path d="M394.72 422.33H400.37M397.55 419.50V425.16" stroke="#00BFC4" stroke-width="1.05" fill="none"/><path d="M402.13 422.83H407.79M404.96 420.00V425.66" stroke="#00BFC4" stroke-width="1.05" fill="none"/><path d="M409.54 423.36H415.20M412.37 420.53V426.19" stroke="#00BFC4" stroke-width="1.05" fill="none"/><path d="M416.95 423.86H422.61M419.78 421.03V426.69" stroke="#00BFC4" stroke-width="1.05" fill="none"/><path d="M424.37 424.21H430.02M427.19 421.39V427.04" stroke="#00BFC4" stroke-width="1.05" fill="none"/><path d="M431.78 424.48H437.43M434.61 421.65V427.31" stroke="#00BFC4" stroke-width="1.05" fill="none"/><path d="M439.19 424.67H444.85M442.02 421.84V427.50" stroke="#00BFC4" stroke-width="1.05" fill="none"/><path d="M446.60 424.79H452.26M449.43 421.97V427.62" stroke="#00BFC4" stroke-width="1.05" fill="none"/><path d="M454.01 424.88H459.67M456.84 422.05V427.71" stroke="#00BFC4" stroke-width="1.05" fill="none"/><path d="M461.43 424.94H467.08M464.25 422.11V427.76" stroke="#00BFC4" stroke-width="1.05" fill="none"/><path d="M468.84 424.97H474.49M471.67 422.15V427.80" stroke="#00BFC4" stroke-width="1.05" fill="none"/><path d="M476.25 425.00H481.91M479.08 422.17V427.82" stroke="#00BFC4" stroke-width="1.05" fill="none"/><path d="M483.66 425.01H489.32M486.49 422.18V427.84" stroke="#00BFC4" stroke-width="1.05" fill="none"/><path d="M491.07 425.03H496.73M493.90 422.20V427.86" stroke="#00BFC4" stroke-width="1.05" fill="none"/><path d="M498.49 425.04H504.14M501.31 422.22V427.87" stroke="#00BFC4" stroke-width="1.05" fill="none"/><path d="M505.90 425.05H511.55M508.73 422.22V427.88" stroke="#00BFC4" stroke-width="1.05" fill="none"/><path d="M513.31 425.05H518.97M516.14 422.23V427.88" stroke="#00BFC4" stroke-width="1.05" fill="none"/>
<path d="M375.31 403.51L382.72 404.22L390.13 405.43L397.55 407.20L404.96 409.40L412.37 411.86L419.78 414.32L427.19 416.32L434.61 418.04L442.02 419.45L449.43 420.55L456.84 421.39L464.25 422.00L471.67 422.43L479.08 422.78L486.49 423.00L493.90 423.31L501.31 423.57L508.73 423.73L516.14 423.84" stroke="#F8766D" stroke-width="1.2" fill="none" stroke-linejoin="round"/>
<path d="M375.31 416.41L382.72 416.72L390.13 417.28L397.55 418.10L404.96 419.06L412.37 420.10L419.78 421.10L427.19 421.83L434.61 422.39L442.02 422.80L449.43 423.09L456.84 423.29L464.25 423.41L471.67 423.50L479.08 423.57L486.49 423.61L493.90 423.65L501.31 423.69L508.73 423.71L516.14 423.72" stroke="#B79F00" stroke-width="1.2" fill="none" stroke-linejoin="round"/>
<path d="M375.31 418.70L382.72 418.91L390.13 419.26L397.55 419.79L404.96 420.42L412.37 421.10L419.78 421.77L427.19 422.27L434.61 422.68L442.02 422.98L449.43 423.20L456.84 423.35L464.25 423.46L471.67 423.53L479.08 423.58L486.49 423.62L493.90 423.66L501.31 423.69L508.73 423.71L516.14 423.72" stroke="#00BA38" stroke-width="1.2" fill="none" stroke-linejoin="round"/>
<path d="M375.31 421.44L382.72 421.60L390.13 421.90L397.55 422.33L404.96 422.83L412.37 423.36L419.78 423.86L427.19 424.21L434.61 424.48L442.02 424.67L449.43 424.79L456.84 424.88L464.25 424.94L471.67 424.97L479.08 425.00L486.49 425.01L493.90 425.03L501.31 425.04L508.73 425.05L516.14 425.05" stroke="#00BFC4" stroke-width="1.2" fill="none" stroke-linejoin="round"/>
<path d="M375.31 421.62L382.72 421.78L390.13 422.07L397.55 422.48L404.96 422.97L412.37 423.49L419.78 423.98L427.19 424.32L434.61 424.58L442.02 424.77L449.43 424.89L456.84 424.97L464.25 425.03L471.67 425.06L479.08 425.09L486.49 425.10L493.90 425.12L501.31 425.13L508.73 425.14L516.14 425.14" stroke="#619CFF" stroke-width="1.2" fill="none" stroke-linejoin="round"/>
<path d="M375.31 419.76L382.72 419.83L390.13 419.93L397.55 420.06L404.96 420.23L412.37 420.46L419.78 420.70L427.19 420.92L434.61 421.13L442.02 421.34L449.43 421.54L456.84 421.71L464.25 421.88L471.67 422.02L479.08 422.15L486.49 422.27L493.90 422.44L501.31 422.64L508.73 422.81L516.14 422.96" stroke="#F564E3" stroke-width="1.2" fill="none" stroke-linejoin="round"/>
<rect x="431.0" y="302.8" width="14.3" height="85.9" fill="#fff"/>
<path d="M432.5 310.00H443.9" stroke="#F8766D" stroke-width="1.2"/>
<circle cx="438.20" cy="310.00" r="2.0" fill="#F8766D"/>
<text x="445.8" y="313.45" font-size="9.7" fill="#000">Greenville</text>
<path d="M432.5 324.30H443.9" stroke="#B79F00" stroke-width="1.2"/>
<path d="M438.20 321.19L440.89 325.86L435.51 325.86Z" fill="#B79F00"/>
<text x="445.8" y="327.75" font-size="9.7" fill="#000">Prince Albert</text>
<path d="M432.5 338.60H443.9" stroke="#00BA38" stroke-width="1.2"/>
<rect x="436.20" y="336.60" width="4.0" height="4.0" fill="#00BA38"/>
<text x="445.8" y="342.05" font-size="9.7" fill="#000">Buffalo Narrows</text>
<path d="M432.5 352.90H443.9" stroke="#00BFC4" stroke-width="1.2"/>
<path d="M435.37 352.90H441.03M438.20 350.07V355.73" stroke="#00BFC4" stroke-width="1.05" fill="none"/>
<text x="445.8" y="356.35" font-size="9.7" fill="#000">Trout Lake</text>
<path d="M432.5 367.20H443.9" stroke="#619CFF" stroke-width="1.2"/>
<path d="M436.20 365.20H440.20V369.20H436.20ZM436.20 367.20H440.20M438.20 365.20V369.20" stroke="#619CFF" stroke-width="1.25" fill="none"/>
<text x="445.8" y="370.65" font-size="9.7" fill="#000">Chulitna</text>
<path d="M432.5 381.50H443.9" stroke="#F564E3" stroke-width="1.2"/>
<path d="M435.37 381.50H441.03M438.20 378.67V384.33M436.20 379.50L440.20 383.50M436.20 383.50L440.20 379.50" stroke="#F564E3" stroke-width="0.95" fill="none"/>
<text x="445.8" y="384.95" font-size="9.7" fill="#000">Indian Mountains</text>
<rect x="368.40" y="300.65" width="154.25" height="129.15" fill="none" stroke="#cecece" stroke-width="1"/>
</g>
<text transform="translate(123.92 21.3) scale(1.075 1)" text-anchor="middle" font-size="16.5" font-weight="bold" fill="#fff">15° Slope</text>
<text transform="translate(284.88 21.3) scale(1.075 1)" text-anchor="middle" font-size="16.5" font-weight="bold" fill="#fff">30° Slope</text>
<text transform="translate(445.82 21.3) scale(1.075 1)" text-anchor="middle" font-size="16.5" font-weight="bold" fill="#fff">45° Slope</text>
<clipPath id="cp0"><rect x="522.7" y="27.85" width="23.50" height="130.15"/></clipPath>
<g clip-path="url(#cp0)"><text transform="translate(528.6 93.03) rotate(90) scale(0.974 1.05)" text-anchor="middle" font-size="16" font-weight="bold" fill="#fff">South-Facing</text></g>
<clipPath id="cp1"><rect x="522.7" y="164.00" width="23.50" height="130.15"/></clipPath>
<g clip-path="url(#cp1)"><text transform="translate(528.6 229.17) rotate(90) scale(0.974 1.05)" text-anchor="middle" font-size="16" font-weight="bold" fill="#fff">East/West-Facing</text></g>
<clipPath id="cp2"><rect x="522.7" y="300.15" width="23.50" height="130.15"/></clipPath>
<g clip-path="url(#cp2)"><text transform="translate(528.6 365.32) rotate(90) scale(0.974 1.05)" text-anchor="middle" font-size="16" font-weight="bold" fill="#fff">North-Facing</text></g>
<text x="41" y="155.10" text-anchor="end" font-size="9.6" fill="#4d4d4d">0</text>
<text x="41" y="110.95" text-anchor="end" font-size="9.6" fill="#4d4d4d">50</text>
<text x="41" y="66.80" text-anchor="end" font-size="9.6" fill="#4d4d4d">100</text>
<text x="41" y="291.25" text-anchor="end" font-size="9.6" fill="#4d4d4d">0</text>
<text x="41" y="247.10" text-anchor="end" font-size="9.6" fill="#4d4d4d">50</text>
<text x="41" y="202.95" text-anchor="end" font-size="9.6" fill="#4d4d4d">100</text>
<text x="41" y="427.40" text-anchor="end" font-size="9.6" fill="#4d4d4d">0</text>
<text x="41" y="383.25" text-anchor="end" font-size="9.6" fill="#4d4d4d">50</text>
<text x="41" y="339.10" text-anchor="end" font-size="9.6" fill="#4d4d4d">100</text>
<text transform="translate(49.05 442.8) scale(1 1)" text-anchor="middle" font-size="9.6" fill="#4d4d4d">0.00</text>
<text transform="translate(92.65 442.8) scale(1 1)" text-anchor="middle" font-size="9.6" fill="#4d4d4d">0.05</text>
<text transform="translate(136.25 442.8) scale(1 1)" text-anchor="middle" font-size="9.6" fill="#4d4d4d">0.10</text>
<text transform="translate(179.85 442.8) scale(1 1)" text-anchor="middle" font-size="9.6" fill="#4d4d4d">0.15</text>
<text transform="translate(210.00 442.8) scale(1 1)" text-anchor="middle" font-size="9.6" fill="#4d4d4d">0.00</text>
<text transform="translate(253.60 442.8) scale(1 1)" text-anchor="middle" font-size="9.6" fill="#4d4d4d">0.05</text>
<text transform="translate(297.20 442.8) scale(1 1)" text-anchor="middle" font-size="9.6" fill="#4d4d4d">0.10</text>
<text transform="translate(340.80 442.8) scale(1 1)" text-anchor="middle" font-size="9.6" fill="#4d4d4d">0.15</text>
<text transform="translate(370.95 442.8) scale(1 1)" text-anchor="middle" font-size="9.6" fill="#4d4d4d">0.00</text>
<text transform="translate(414.55 442.8) scale(1 1)" text-anchor="middle" font-size="9.6" fill="#4d4d4d">0.05</text>
<text transform="translate(458.15 442.8) scale(1 1)" text-anchor="middle" font-size="9.6" fill="#4d4d4d">0.10</text>
<text transform="translate(501.75 442.8) scale(1 1)" text-anchor="middle" font-size="9.6" fill="#4d4d4d">0.15</text>
<path d="M43.6 151.70H46.5M43.6 107.55H46.5M43.6 63.40H46.5M43.6 287.85H46.5M43.6 243.70H46.5M43.6 199.55H46.5M43.6 424.00H46.5M43.6 379.85H46.5M43.6 335.70H46.5M49.05 429.80V432.70M92.65 429.80V432.70M136.25 429.80V432.70M179.85 429.80V432.70M210.00 429.80V432.70M253.60 429.80V432.70M297.20 429.80V432.70M340.80 429.80V432.70M370.95 429.80V432.70M414.55 429.80V432.70M458.15 429.80V432.70M501.75 429.80V432.70" stroke="#7f7f7f" stroke-width="0.6" fill="none"/>
<g fill="#000" font-size="12"><text x="229.6" y="460.3">Forest Density (</text><text x="315.4" y="460.3">m</text><text x="326.1" y="456.2" font-size="10.5">-</text><text x="329.8" y="455.6" font-size="8.4">1</text><text x="335.9" y="460.3">)</text></g>
<g transform="translate(15.1 262) rotate(-90)" fill="#000"><text x="0" y="0" font-size="12">S</text><text x="8.4" y="2.6" font-size="7.8">Net</text><text x="23.7" y="0" font-size="12">(</text><text x="29.1" y="0" font-size="12">W</text><text x="41.1" y="0" font-size="12">/</text><text x="45.8" y="0" font-size="12">m</text><text x="56.4" y="-5.6" font-size="8.4">2</text><text x="62.7" y="0" font-size="12">)</text></g>
</svg>
</body></html>
